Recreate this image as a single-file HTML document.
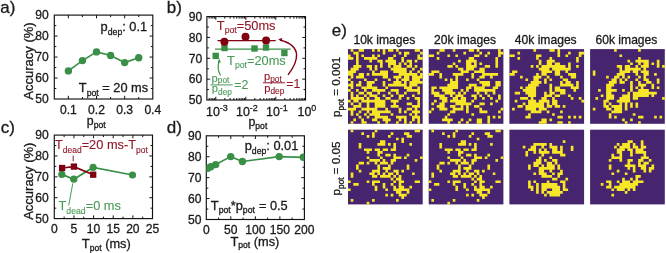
<!DOCTYPE html>
<html><head><meta charset="utf-8"><style>
html,body{margin:0;padding:0;background:#fff;width:666px;height:253px;overflow:hidden}
svg{display:block;will-change:transform}
text{font-family:"Liberation Sans",sans-serif}
</style></head><body>
<svg width="666" height="253" viewBox="0 0 666 253">
<text x="0.3" y="13.0" font-size="17" fill="#1a1a1a" stroke="#1a1a1a" stroke-width="0.3" text-anchor="start" >a)</text>
<rect x="54.3" y="15.1" width="98.50000000000001" height="83.9" fill="none" stroke="#111" stroke-width="1.15"/>
<path d="M68.37142857142857 99.0v-3.2M68.37142857142857 15.1v3.2M96.51428571428573 99.0v-3.2M96.51428571428573 15.1v3.2M124.65714285714287 99.0v-3.2M124.65714285714287 15.1v3.2M82.44285714285715 99.0v-2.0M82.44285714285715 15.1v2.0M110.58571428571429 99.0v-2.0M110.58571428571429 15.1v2.0M138.72857142857146 99.0v-2.0M138.72857142857146 15.1v2.0M54.3 36.075h3.2M152.8 36.075h-3.2M54.3 57.050000000000004h3.2M152.8 57.050000000000004h-3.2M54.3 78.025h3.2M152.8 78.025h-3.2M54.3 25.5875h2.0M152.8 25.5875h-2.0M54.3 46.5625h2.0M152.8 46.5625h-2.0M54.3 67.5375h2.0M152.8 67.5375h-2.0M54.3 88.5125h2.0M152.8 88.5125h-2.0" stroke="#111" stroke-width="1" fill="none"/>
<text x="48.8" y="19.3" font-size="12.1" fill="#1a1a1a" stroke="#1a1a1a" stroke-width="0.3" text-anchor="end" >90</text>
<text x="48.8" y="40.28" font-size="12.1" fill="#1a1a1a" stroke="#1a1a1a" stroke-width="0.3" text-anchor="end" >80</text>
<text x="48.8" y="61.25" font-size="12.1" fill="#1a1a1a" stroke="#1a1a1a" stroke-width="0.3" text-anchor="end" >70</text>
<text x="48.8" y="82.23" font-size="12.1" fill="#1a1a1a" stroke="#1a1a1a" stroke-width="0.3" text-anchor="end" >60</text>
<text x="48.8" y="103.2" font-size="12.1" fill="#1a1a1a" stroke="#1a1a1a" stroke-width="0.3" text-anchor="end" >50</text>
<text x="68.37" y="113.5" font-size="12.1" fill="#1a1a1a" stroke="#1a1a1a" stroke-width="0.3" text-anchor="middle" >0.1</text>
<text x="96.51" y="113.5" font-size="12.1" fill="#1a1a1a" stroke="#1a1a1a" stroke-width="0.3" text-anchor="middle" >0.2</text>
<text x="124.66" y="113.5" font-size="12.1" fill="#1a1a1a" stroke="#1a1a1a" stroke-width="0.3" text-anchor="middle" >0.3</text>
<text x="152.8" y="113.5" font-size="12.1" fill="#1a1a1a" stroke="#1a1a1a" stroke-width="0.3" text-anchor="middle" >0.4</text>
<text transform="translate(33.2,61.0) rotate(-90)" font-size="13" fill="#1a1a1a" stroke="#1a1a1a" stroke-width="0.3" text-anchor="middle">Accuracy (%)</text>
<text x="86.8" y="125.3" font-size="12.3" fill="#1a1a1a" stroke="#1a1a1a" stroke-width="0.3" text-anchor="start" >p<tspan font-size="8.6" dy="3.0">pot</tspan></text>
<polyline points="68.37142857142857,70.9 82.44285714285715,60.6 96.51428571428573,51.9 110.58571428571429,55.5 124.65714285714287,62.6 138.72857142857146,57.7" fill="none" stroke="#3a8f47" stroke-width="1.7"/>
<circle cx="68.37142857142857" cy="70.9" r="3.7" fill="#3a8f47"/>
<circle cx="82.44285714285715" cy="60.6" r="3.7" fill="#3a8f47"/>
<circle cx="96.51428571428573" cy="51.9" r="3.7" fill="#3a8f47"/>
<circle cx="110.58571428571429" cy="55.5" r="3.7" fill="#3a8f47"/>
<circle cx="124.65714285714287" cy="62.6" r="3.7" fill="#3a8f47"/>
<circle cx="138.72857142857146" cy="57.7" r="3.7" fill="#3a8f47"/>
<text x="100.6" y="30.9" font-size="12.8" fill="#1a1a1a" stroke="#1a1a1a" stroke-width="0.3" text-anchor="start" >p<tspan font-size="8.7" dy="4.2">dep</tspan><tspan font-size="12.8" dy="-4.2">: 0.1</tspan></text>
<text x="78.8" y="92.1" font-size="12.8" fill="#1a1a1a" stroke="#1a1a1a" stroke-width="0.3" text-anchor="start" >T<tspan font-size="8.7" dy="4.2">pot</tspan><tspan font-size="12.8" dy="-4.2"> = 20 ms</tspan></text>
<text x="166.8" y="13.0" font-size="17" fill="#1a1a1a" stroke="#1a1a1a" stroke-width="0.3" text-anchor="start" >b)</text>
<rect x="206.9" y="16.6" width="98.6" height="83.4" fill="none" stroke="#111" stroke-width="1.15"/>
<path d="M215.8 100.0v-3.2M215.8 16.6v3.2M245.8 100.0v-3.2M245.8 16.6v3.2M275.8 100.0v-3.2M275.8 16.6v3.2M209.14453751150933 100.0v-2.0M209.14453751150933 16.6v2.0M211.15294120042773 100.0v-2.0M211.15294120042773 16.6v2.0M212.89269960975832 100.0v-2.0M212.89269960975832 16.6v2.0M214.42727528317977 100.0v-2.0M214.42727528317977 16.6v2.0M224.83089986991945 100.0v-2.0M224.83089986991945 16.6v2.0M230.1136376415899 100.0v-2.0M230.1136376415899 16.6v2.0M233.8617997398389 100.0v-2.0M233.8617997398389 16.6v2.0M236.76910013008057 100.0v-2.0M236.76910013008057 16.6v2.0M239.14453751150933 100.0v-2.0M239.14453751150933 16.6v2.0M241.15294120042773 100.0v-2.0M241.15294120042773 16.6v2.0M242.89269960975832 100.0v-2.0M242.89269960975832 16.6v2.0M244.42727528317977 100.0v-2.0M244.42727528317977 16.6v2.0M254.83089986991945 100.0v-2.0M254.83089986991945 16.6v2.0M260.1136376415899 100.0v-2.0M260.1136376415899 16.6v2.0M263.8617997398389 100.0v-2.0M263.8617997398389 16.6v2.0M266.7691001300806 100.0v-2.0M266.7691001300806 16.6v2.0M269.1445375115093 100.0v-2.0M269.1445375115093 16.6v2.0M271.15294120042773 100.0v-2.0M271.15294120042773 16.6v2.0M272.8926996097583 100.0v-2.0M272.8926996097583 16.6v2.0M274.42727528317977 100.0v-2.0M274.42727528317977 16.6v2.0M284.83089986991945 100.0v-2.0M284.83089986991945 16.6v2.0M290.1136376415899 100.0v-2.0M290.1136376415899 16.6v2.0M293.8617997398389 100.0v-2.0M293.8617997398389 16.6v2.0M296.7691001300806 100.0v-2.0M296.7691001300806 16.6v2.0M299.1445375115093 100.0v-2.0M299.1445375115093 16.6v2.0M301.15294120042773 100.0v-2.0M301.15294120042773 16.6v2.0M302.8926996097583 100.0v-2.0M302.8926996097583 16.6v2.0M304.42727528317977 100.0v-2.0M304.42727528317977 16.6v2.0M206.9 37.45h3.2M305.5 37.45h-3.2M206.9 58.300000000000004h3.2M305.5 58.300000000000004h-3.2M206.9 79.15h3.2M305.5 79.15h-3.2M206.9 27.025000000000002h2.0M305.5 27.025000000000002h-2.0M206.9 47.875h2.0M305.5 47.875h-2.0M206.9 68.725h2.0M305.5 68.725h-2.0M206.9 89.57500000000002h2.0M305.5 89.57500000000002h-2.0" stroke="#111" stroke-width="1" fill="none"/>
<text x="202.2" y="20.8" font-size="12.1" fill="#1a1a1a" stroke="#1a1a1a" stroke-width="0.3" text-anchor="end" >90</text>
<text x="202.2" y="41.65" font-size="12.1" fill="#1a1a1a" stroke="#1a1a1a" stroke-width="0.3" text-anchor="end" >80</text>
<text x="202.2" y="62.5" font-size="12.1" fill="#1a1a1a" stroke="#1a1a1a" stroke-width="0.3" text-anchor="end" >70</text>
<text x="202.2" y="83.35" font-size="12.1" fill="#1a1a1a" stroke="#1a1a1a" stroke-width="0.3" text-anchor="end" >60</text>
<text x="202.2" y="104.2" font-size="12.1" fill="#1a1a1a" stroke="#1a1a1a" stroke-width="0.3" text-anchor="end" >50</text>
<text x="216.9" y="116.3" font-size="12.4" fill="#1a1a1a" stroke="#1a1a1a" stroke-width="0.3" text-anchor="middle">10<tspan font-size="9" dy="-5">-3</tspan></text>
<text x="246.9" y="116.3" font-size="12.4" fill="#1a1a1a" stroke="#1a1a1a" stroke-width="0.3" text-anchor="middle">10<tspan font-size="9" dy="-5">-2</tspan></text>
<text x="276.90000000000003" y="116.3" font-size="12.4" fill="#1a1a1a" stroke="#1a1a1a" stroke-width="0.3" text-anchor="middle">10<tspan font-size="9" dy="-5">-1</tspan></text>
<text x="306.90000000000003" y="116.3" font-size="12.4" fill="#1a1a1a" stroke="#1a1a1a" stroke-width="0.3" text-anchor="middle">10<tspan font-size="9" dy="-5">0</tspan></text>
<text x="248.5" y="125.6" font-size="12.3" fill="#1a1a1a" stroke="#1a1a1a" stroke-width="0.3" text-anchor="start" >p<tspan font-size="8.6" dy="3.0">pot</tspan></text>
<polyline points="215,49.2 290.7,49.2" fill="none" stroke="#3a8f47" stroke-width="1.3"/>
<rect x="212.5" y="52.699999999999996" width="6.4" height="6.4" fill="#3a8f47"/>
<rect x="221.3" y="44.8" width="6.4" height="6.4" fill="#3a8f47"/>
<rect x="251.3" y="45.3" width="6.4" height="6.4" fill="#3a8f47"/>
<rect x="262.8" y="44.3" width="6.4" height="6.4" fill="#3a8f47"/>
<rect x="281.2" y="49.8" width="6.4" height="6.4" fill="#3a8f47"/>
<polyline points="217.5,40.6 275.7,40.6" fill="none" stroke="#7f0010" stroke-width="1.3"/>
<circle cx="224.4" cy="41.8" r="4.0" fill="#7f0010"/>
<circle cx="245.5" cy="36.7" r="4.0" fill="#7f0010"/>
<circle cx="266.1" cy="40.4" r="4.0" fill="#7f0010"/>
<text x="216.8" y="29.5" font-size="12.8" fill="#921828" stroke="#921828" stroke-width="0.12" text-anchor="start" >T<tspan font-size="8.7" dy="3.0">pot</tspan><tspan font-size="12.8" dy="-3.0">=50ms</tspan></text>
<text x="227.1" y="64.7" font-size="12.8" fill="#4a9a58" stroke="#4a9a58" stroke-width="0.12" text-anchor="start" >T<tspan font-size="8.7" dy="3.2">pot</tspan><tspan font-size="12.8" dy="-3.2">=20ms</tspan></text>
<text x="211.6" y="81.8" font-size="11.2" fill="#4a9a58" stroke="#4a9a58" stroke-width="0.12" text-anchor="start" >p<tspan font-size="8.3" dy="1.5">pot</tspan></text>
<line x1="210.5" y1="84.9" x2="232.7" y2="84.9" stroke="#4a9a58" stroke-width="1"/>
<text x="211.8" y="92.2" font-size="11.2" fill="#4a9a58" stroke="#4a9a58" stroke-width="0.12" text-anchor="start" >p<tspan font-size="8.3" dy="2.4">dep</tspan></text>
<text x="234.3" y="89.4" font-size="12.3" fill="#4a9a58" stroke="#4a9a58" stroke-width="0.12" text-anchor="start" >=2</text>
<text x="264.0" y="80.0" font-size="11.2" fill="#921828" stroke="#921828" stroke-width="0.12" text-anchor="start" >p<tspan font-size="8.3" dy="1.5">pot</tspan></text>
<line x1="263" y1="82.8" x2="285.1" y2="82.8" stroke="#921828" stroke-width="1"/>
<text x="264.2" y="91.6" font-size="11.2" fill="#921828" stroke="#921828" stroke-width="0.12" text-anchor="start" >p<tspan font-size="8.3" dy="2.4">dep</tspan></text>
<text x="286.3" y="87.7" font-size="12.3" fill="#921828" stroke="#921828" stroke-width="0.12" text-anchor="start" >=1</text>
<path d="M220.5 75.5 C218 71 217.5 66 219 61.5" fill="none" stroke="#3a8f47" stroke-width="1.2"/>
<path d="M219.2 58.6 l-1.6 4 l3.2 0 z" fill="#3a8f47"/>
<path d="M288 74.9 C298 62 303.5 46 280 40" fill="none" stroke="#7f0010" stroke-width="1.4"/>
<path d="M278.2 39.2 l4.2 -1.2 l-0.9 3.6 z" fill="#7f0010"/>
<text x="0.8" y="133.2" font-size="17" fill="#1a1a1a" stroke="#1a1a1a" stroke-width="0.3" text-anchor="start" >c)</text>
<rect x="54.3" y="135.1" width="98.2" height="83.5" fill="none" stroke="#111" stroke-width="1.15"/>
<path d="M73.94 218.6v-3.2M73.94 135.1v3.2M93.58 218.6v-3.2M93.58 135.1v3.2M113.22 218.6v-3.2M113.22 135.1v3.2M132.86 218.6v-3.2M132.86 135.1v3.2M64.12 218.6v-2.0M64.12 135.1v2.0M83.75999999999999 218.6v-2.0M83.75999999999999 135.1v2.0M103.4 218.6v-2.0M103.4 135.1v2.0M123.03999999999999 218.6v-2.0M123.03999999999999 135.1v2.0M142.68 218.6v-2.0M142.68 135.1v2.0M54.3 155.975h3.2M152.5 155.975h-3.2M54.3 176.85h3.2M152.5 176.85h-3.2M54.3 197.725h3.2M152.5 197.725h-3.2M54.3 145.5375h2.0M152.5 145.5375h-2.0M54.3 166.4125h2.0M152.5 166.4125h-2.0M54.3 187.2875h2.0M152.5 187.2875h-2.0M54.3 208.1625h2.0M152.5 208.1625h-2.0" stroke="#111" stroke-width="1" fill="none"/>
<text x="48.8" y="139.3" font-size="12.1" fill="#1a1a1a" stroke="#1a1a1a" stroke-width="0.3" text-anchor="end" >90</text>
<text x="48.8" y="160.17" font-size="12.1" fill="#1a1a1a" stroke="#1a1a1a" stroke-width="0.3" text-anchor="end" >80</text>
<text x="48.8" y="181.05" font-size="12.1" fill="#1a1a1a" stroke="#1a1a1a" stroke-width="0.3" text-anchor="end" >70</text>
<text x="48.8" y="201.92" font-size="12.1" fill="#1a1a1a" stroke="#1a1a1a" stroke-width="0.3" text-anchor="end" >60</text>
<text x="48.8" y="222.8" font-size="12.1" fill="#1a1a1a" stroke="#1a1a1a" stroke-width="0.3" text-anchor="end" >50</text>
<text x="54.3" y="233.2" font-size="12.1" fill="#1a1a1a" stroke="#1a1a1a" stroke-width="0.3" text-anchor="middle" >0</text>
<text x="73.94" y="233.2" font-size="12.1" fill="#1a1a1a" stroke="#1a1a1a" stroke-width="0.3" text-anchor="middle" >5</text>
<text x="93.58" y="233.2" font-size="12.1" fill="#1a1a1a" stroke="#1a1a1a" stroke-width="0.3" text-anchor="middle" >10</text>
<text x="113.22" y="233.2" font-size="12.1" fill="#1a1a1a" stroke="#1a1a1a" stroke-width="0.3" text-anchor="middle" >15</text>
<text x="132.86" y="233.2" font-size="12.1" fill="#1a1a1a" stroke="#1a1a1a" stroke-width="0.3" text-anchor="middle" >20</text>
<text x="152.5" y="233.2" font-size="12.1" fill="#1a1a1a" stroke="#1a1a1a" stroke-width="0.3" text-anchor="middle" >25</text>
<text transform="translate(33.2,181.2) rotate(-90)" font-size="13" fill="#1a1a1a" stroke="#1a1a1a" stroke-width="0.3" text-anchor="middle">Accuracy (%)</text>
<text x="81.8" y="248.4" font-size="13" fill="#1a1a1a" stroke="#1a1a1a" stroke-width="0.3" text-anchor="start" >T<tspan font-size="8.5" dy="2.4">pot</tspan><tspan font-size="12.8" dy="-2.4"> (ms)</tspan></text>
<polyline points="61.8,174.4 73.8,179.2 93.1,167.4 132.5,175.0" fill="none" stroke="#3a8f47" stroke-width="1.7"/>
<circle cx="61.8" cy="174.4" r="3.6" fill="#3a8f47"/>
<circle cx="73.8" cy="179.2" r="3.6" fill="#3a8f47"/>
<circle cx="93.1" cy="167.4" r="3.6" fill="#3a8f47"/>
<circle cx="132.5" cy="175.0" r="3.6" fill="#3a8f47"/>
<polyline points="62.1,168.0 73.9,166.6 93.2,174.7" fill="none" stroke="#7f0010" stroke-width="1.7"/>
<rect x="58.95" y="164.85" width="6.3" height="6.3" fill="#7f0010"/>
<rect x="70.75" y="163.45" width="6.3" height="6.3" fill="#7f0010"/>
<rect x="90.05" y="171.54999999999998" width="6.3" height="6.3" fill="#7f0010"/>
<text x="54.9" y="148.8" font-size="12.8" fill="#921828" stroke="#921828" stroke-width="0.12" text-anchor="start" >T<tspan font-size="8.5" dy="4.0">dead</tspan><tspan font-size="12.8" dy="-4.0">=20 ms-T</tspan><tspan font-size="8.5" dy="4.0">pot</tspan></text>
<line x1="73.2" y1="155.5" x2="73.2" y2="161.3" stroke="#921828" stroke-width="1"/>
<text x="58.5" y="210.4" font-size="12.8" fill="#4a9a58" stroke="#4a9a58" stroke-width="0.12" text-anchor="start" >T<tspan font-size="8.7" dy="3.4">dead</tspan><tspan font-size="12.8" dy="-3.4">=0 ms</tspan></text>
<line x1="72.8" y1="183.3" x2="68.7" y2="205.3" stroke="#4a9a58" stroke-width="1"/>
<text x="166.8" y="133.2" font-size="17" fill="#1a1a1a" stroke="#1a1a1a" stroke-width="0.3" text-anchor="start" >d)</text>
<rect x="206.3" y="135.8" width="98.09999999999997" height="83.69999999999999" fill="none" stroke="#111" stroke-width="1.15"/>
<path d="M230.825 219.5v-3.2M230.825 135.8v3.2M255.35 219.5v-3.2M255.35 135.8v3.2M279.875 219.5v-3.2M279.875 135.8v3.2M218.5625 219.5v-2.0M218.5625 135.8v2.0M243.0875 219.5v-2.0M243.0875 135.8v2.0M267.6125 219.5v-2.0M267.6125 135.8v2.0M292.1375 219.5v-2.0M292.1375 135.8v2.0M206.3 156.72500000000002h3.2M304.4 156.72500000000002h-3.2M206.3 177.65h3.2M304.4 177.65h-3.2M206.3 198.575h3.2M304.4 198.575h-3.2M206.3 146.26250000000002h2.0M304.4 146.26250000000002h-2.0M206.3 167.1875h2.0M304.4 167.1875h-2.0M206.3 188.1125h2.0M304.4 188.1125h-2.0M206.3 209.0375h2.0M304.4 209.0375h-2.0" stroke="#111" stroke-width="1" fill="none"/>
<text x="201.5" y="140.0" font-size="12.1" fill="#1a1a1a" stroke="#1a1a1a" stroke-width="0.3" text-anchor="end" >90</text>
<text x="201.5" y="160.93" font-size="12.1" fill="#1a1a1a" stroke="#1a1a1a" stroke-width="0.3" text-anchor="end" >80</text>
<text x="201.5" y="181.85" font-size="12.1" fill="#1a1a1a" stroke="#1a1a1a" stroke-width="0.3" text-anchor="end" >70</text>
<text x="201.5" y="202.77" font-size="12.1" fill="#1a1a1a" stroke="#1a1a1a" stroke-width="0.3" text-anchor="end" >60</text>
<text x="201.5" y="223.7" font-size="12.1" fill="#1a1a1a" stroke="#1a1a1a" stroke-width="0.3" text-anchor="end" >50</text>
<text x="206.3" y="234.2" font-size="12.1" fill="#1a1a1a" stroke="#1a1a1a" stroke-width="0.3" text-anchor="middle" >0</text>
<text x="230.82" y="234.2" font-size="12.1" fill="#1a1a1a" stroke="#1a1a1a" stroke-width="0.3" text-anchor="middle" >50</text>
<text x="255.35" y="234.2" font-size="12.1" fill="#1a1a1a" stroke="#1a1a1a" stroke-width="0.3" text-anchor="middle" >100</text>
<text x="279.88" y="234.2" font-size="12.1" fill="#1a1a1a" stroke="#1a1a1a" stroke-width="0.3" text-anchor="middle" >150</text>
<text x="304.4" y="234.2" font-size="12.1" fill="#1a1a1a" stroke="#1a1a1a" stroke-width="0.3" text-anchor="middle" >200</text>
<text x="230.4" y="246.0" font-size="13" fill="#1a1a1a" stroke="#1a1a1a" stroke-width="0.3" text-anchor="start" >T<tspan font-size="8.5" dy="2.4">pot</tspan><tspan font-size="12.8" dy="-2.4"> (ms)</tspan></text>
<clipPath id="cd"><rect x="206.3" y="135.8" width="98.1" height="83.7"/></clipPath>
<g clip-path="url(#cd)">
<polyline points="207.8,168.3 210.8,166.8 215.7,164.6 230.7,156.6 242.4,161.5 279.2,156.6 303.3,157.3" fill="none" stroke="#3a8f47" stroke-width="1.7"/>
<circle cx="207.8" cy="168.3" r="3.7" fill="#3a8f47"/>
<circle cx="210.8" cy="166.8" r="3.7" fill="#3a8f47"/>
<circle cx="215.7" cy="164.6" r="3.7" fill="#3a8f47"/>
<circle cx="230.7" cy="156.6" r="3.7" fill="#3a8f47"/>
<circle cx="242.4" cy="161.5" r="3.7" fill="#3a8f47"/>
<circle cx="279.2" cy="156.6" r="3.7" fill="#3a8f47"/>
<circle cx="303.3" cy="157.3" r="3.7" fill="#3a8f47"/>
</g>
<text x="244.7" y="149.5" font-size="12.8" fill="#1a1a1a" stroke="#1a1a1a" stroke-width="0.3" text-anchor="start" >p<tspan font-size="8.7" dy="4.2">dep</tspan><tspan font-size="12.8" dy="-4.2">: 0.01</tspan></text>
<text x="210.8" y="210.0" font-size="12.8" fill="#1a1a1a" stroke="#1a1a1a" stroke-width="0.3" text-anchor="start" >T<tspan font-size="8.7" dy="3.0">pot</tspan><tspan font-size="12.8" dy="-3.0">*p</tspan><tspan font-size="8.7" dy="3.0">pot</tspan></text>
<text x="258.9" y="210.0" font-size="12.8" fill="#1a1a1a" stroke="#1a1a1a" stroke-width="0.3" text-anchor="start" >= 0.5</text>
<text x="331.8" y="35.8" font-size="17" fill="#1a1a1a" stroke="#1a1a1a" stroke-width="0.3" text-anchor="start" >e)</text>
<text x="384.35" y="43.5" font-size="12.1" fill="#1a1a1a" stroke="#1a1a1a" stroke-width="0.3" text-anchor="middle" >10k images</text>
<text x="465.05" y="43.5" font-size="12.1" fill="#1a1a1a" stroke="#1a1a1a" stroke-width="0.3" text-anchor="middle" >20k images</text>
<text x="545.75" y="43.5" font-size="12.1" fill="#1a1a1a" stroke="#1a1a1a" stroke-width="0.3" text-anchor="middle" >40k images</text>
<text x="626.45" y="43.5" font-size="12.1" fill="#1a1a1a" stroke="#1a1a1a" stroke-width="0.3" text-anchor="middle" >60k images</text>
<text transform="translate(339.6,86.8) rotate(-90)" font-size="11.6" fill="#1a1a1a" stroke="#1a1a1a" stroke-width="0.3" text-anchor="middle">p<tspan font-size="8.3" dy="4">pot</tspan><tspan dy="-4"> = 0.001</tspan></text>
<text transform="translate(339.6,168.5) rotate(-90)" font-size="11.6" fill="#1a1a1a" stroke="#1a1a1a" stroke-width="0.3" text-anchor="middle">p<tspan font-size="8.3" dy="4">pot</tspan><tspan dy="-4"> = 0.05</tspan></text>
<rect x="348.0" y="49.1" width="74.7" height="74.7" fill="#46256e"/>
<path d="M350.67 49.10h2.67v2.67h-2.67zM358.67 49.10h2.67v2.67h-2.67zM361.34 49.10h2.67v2.67h-2.67zM372.01 49.10h2.67v2.67h-2.67zM377.35 49.10h2.67v2.67h-2.67zM382.68 49.10h2.67v2.67h-2.67zM388.02 49.10h2.67v2.67h-2.67zM390.69 49.10h2.67v2.67h-2.67zM396.02 49.10h2.67v2.67h-2.67zM414.70 49.10h2.67v2.67h-2.67zM417.36 49.10h2.67v2.67h-2.67zM353.34 51.77h2.67v2.67h-2.67zM356.00 51.77h2.67v2.67h-2.67zM382.68 51.77h2.67v2.67h-2.67zM398.69 51.77h2.67v2.67h-2.67zM404.02 51.77h2.67v2.67h-2.67zM406.69 51.77h2.67v2.67h-2.67zM420.03 51.77h2.67v2.67h-2.67zM348.00 54.44h2.67v2.67h-2.67zM356.00 54.44h2.67v2.67h-2.67zM361.34 54.44h2.67v2.67h-2.67zM372.01 54.44h2.67v2.67h-2.67zM377.35 54.44h2.67v2.67h-2.67zM393.35 54.44h2.67v2.67h-2.67zM404.02 54.44h2.67v2.67h-2.67zM417.36 54.44h2.67v2.67h-2.67zM348.00 57.10h2.67v2.67h-2.67zM350.67 57.10h2.67v2.67h-2.67zM356.00 57.10h2.67v2.67h-2.67zM364.01 57.10h2.67v2.67h-2.67zM366.68 57.10h2.67v2.67h-2.67zM369.34 57.10h2.67v2.67h-2.67zM372.01 57.10h2.67v2.67h-2.67zM374.68 57.10h2.67v2.67h-2.67zM388.02 57.10h2.67v2.67h-2.67zM390.69 57.10h2.67v2.67h-2.67zM401.36 57.10h2.67v2.67h-2.67zM417.36 57.10h2.67v2.67h-2.67zM420.03 57.10h2.67v2.67h-2.67zM356.00 59.77h2.67v2.67h-2.67zM369.34 59.77h2.67v2.67h-2.67zM377.35 59.77h2.67v2.67h-2.67zM380.01 59.77h2.67v2.67h-2.67zM385.35 59.77h2.67v2.67h-2.67zM388.02 59.77h2.67v2.67h-2.67zM390.69 59.77h2.67v2.67h-2.67zM393.35 59.77h2.67v2.67h-2.67zM401.36 59.77h2.67v2.67h-2.67zM406.69 59.77h2.67v2.67h-2.67zM409.36 59.77h2.67v2.67h-2.67zM414.70 59.77h2.67v2.67h-2.67zM356.00 62.44h2.67v2.67h-2.67zM380.01 62.44h2.67v2.67h-2.67zM388.02 62.44h2.67v2.67h-2.67zM390.69 62.44h2.67v2.67h-2.67zM393.35 62.44h2.67v2.67h-2.67zM398.69 62.44h2.67v2.67h-2.67zM404.02 62.44h2.67v2.67h-2.67zM409.36 62.44h2.67v2.67h-2.67zM353.34 65.11h2.67v2.67h-2.67zM356.00 65.11h2.67v2.67h-2.67zM358.67 65.11h2.67v2.67h-2.67zM366.68 65.11h2.67v2.67h-2.67zM369.34 65.11h2.67v2.67h-2.67zM374.68 65.11h2.67v2.67h-2.67zM380.01 65.11h2.67v2.67h-2.67zM388.02 65.11h2.67v2.67h-2.67zM393.35 65.11h2.67v2.67h-2.67zM396.02 65.11h2.67v2.67h-2.67zM398.69 65.11h2.67v2.67h-2.67zM406.69 65.11h2.67v2.67h-2.67zM409.36 65.11h2.67v2.67h-2.67zM414.70 65.11h2.67v2.67h-2.67zM350.67 67.78h2.67v2.67h-2.67zM353.34 67.78h2.67v2.67h-2.67zM356.00 67.78h2.67v2.67h-2.67zM369.34 67.78h2.67v2.67h-2.67zM374.68 67.78h2.67v2.67h-2.67zM390.69 67.78h2.67v2.67h-2.67zM393.35 67.78h2.67v2.67h-2.67zM396.02 67.78h2.67v2.67h-2.67zM398.69 67.78h2.67v2.67h-2.67zM401.36 67.78h2.67v2.67h-2.67zM404.02 67.78h2.67v2.67h-2.67zM412.03 67.78h2.67v2.67h-2.67zM420.03 67.78h2.67v2.67h-2.67zM348.00 70.44h2.67v2.67h-2.67zM350.67 70.44h2.67v2.67h-2.67zM353.34 70.44h2.67v2.67h-2.67zM372.01 70.44h2.67v2.67h-2.67zM380.01 70.44h2.67v2.67h-2.67zM382.68 70.44h2.67v2.67h-2.67zM385.35 70.44h2.67v2.67h-2.67zM393.35 70.44h2.67v2.67h-2.67zM396.02 70.44h2.67v2.67h-2.67zM398.69 70.44h2.67v2.67h-2.67zM401.36 70.44h2.67v2.67h-2.67zM404.02 70.44h2.67v2.67h-2.67zM409.36 70.44h2.67v2.67h-2.67zM417.36 70.44h2.67v2.67h-2.67zM348.00 73.11h2.67v2.67h-2.67zM350.67 73.11h2.67v2.67h-2.67zM358.67 73.11h2.67v2.67h-2.67zM361.34 73.11h2.67v2.67h-2.67zM366.68 73.11h2.67v2.67h-2.67zM372.01 73.11h2.67v2.67h-2.67zM374.68 73.11h2.67v2.67h-2.67zM377.35 73.11h2.67v2.67h-2.67zM380.01 73.11h2.67v2.67h-2.67zM382.68 73.11h2.67v2.67h-2.67zM385.35 73.11h2.67v2.67h-2.67zM398.69 73.11h2.67v2.67h-2.67zM401.36 73.11h2.67v2.67h-2.67zM404.02 73.11h2.67v2.67h-2.67zM406.69 73.11h2.67v2.67h-2.67zM409.36 73.11h2.67v2.67h-2.67zM412.03 73.11h2.67v2.67h-2.67zM414.70 73.11h2.67v2.67h-2.67zM420.03 73.11h2.67v2.67h-2.67zM350.67 75.78h2.67v2.67h-2.67zM356.00 75.78h2.67v2.67h-2.67zM358.67 75.78h2.67v2.67h-2.67zM361.34 75.78h2.67v2.67h-2.67zM382.68 75.78h2.67v2.67h-2.67zM385.35 75.78h2.67v2.67h-2.67zM393.35 75.78h2.67v2.67h-2.67zM396.02 75.78h2.67v2.67h-2.67zM398.69 75.78h2.67v2.67h-2.67zM404.02 75.78h2.67v2.67h-2.67zM406.69 75.78h2.67v2.67h-2.67zM412.03 75.78h2.67v2.67h-2.67zM414.70 75.78h2.67v2.67h-2.67zM417.36 75.78h2.67v2.67h-2.67zM420.03 75.78h2.67v2.67h-2.67zM348.00 78.45h2.67v2.67h-2.67zM364.01 78.45h2.67v2.67h-2.67zM374.68 78.45h2.67v2.67h-2.67zM388.02 78.45h2.67v2.67h-2.67zM396.02 78.45h2.67v2.67h-2.67zM401.36 78.45h2.67v2.67h-2.67zM404.02 78.45h2.67v2.67h-2.67zM406.69 78.45h2.67v2.67h-2.67zM412.03 78.45h2.67v2.67h-2.67zM414.70 78.45h2.67v2.67h-2.67zM417.36 78.45h2.67v2.67h-2.67zM350.67 81.11h2.67v2.67h-2.67zM358.67 81.11h2.67v2.67h-2.67zM366.68 81.11h2.67v2.67h-2.67zM369.34 81.11h2.67v2.67h-2.67zM372.01 81.11h2.67v2.67h-2.67zM382.68 81.11h2.67v2.67h-2.67zM393.35 81.11h2.67v2.67h-2.67zM396.02 81.11h2.67v2.67h-2.67zM398.69 81.11h2.67v2.67h-2.67zM404.02 81.11h2.67v2.67h-2.67zM409.36 81.11h2.67v2.67h-2.67zM412.03 81.11h2.67v2.67h-2.67zM414.70 81.11h2.67v2.67h-2.67zM417.36 81.11h2.67v2.67h-2.67zM420.03 81.11h2.67v2.67h-2.67zM348.00 83.78h2.67v2.67h-2.67zM350.67 83.78h2.67v2.67h-2.67zM356.00 83.78h2.67v2.67h-2.67zM358.67 83.78h2.67v2.67h-2.67zM366.68 83.78h2.67v2.67h-2.67zM369.34 83.78h2.67v2.67h-2.67zM382.68 83.78h2.67v2.67h-2.67zM388.02 83.78h2.67v2.67h-2.67zM390.69 83.78h2.67v2.67h-2.67zM393.35 83.78h2.67v2.67h-2.67zM396.02 83.78h2.67v2.67h-2.67zM398.69 83.78h2.67v2.67h-2.67zM401.36 83.78h2.67v2.67h-2.67zM404.02 83.78h2.67v2.67h-2.67zM409.36 83.78h2.67v2.67h-2.67zM412.03 83.78h2.67v2.67h-2.67zM414.70 83.78h2.67v2.67h-2.67zM350.67 86.45h2.67v2.67h-2.67zM361.34 86.45h2.67v2.67h-2.67zM364.01 86.45h2.67v2.67h-2.67zM366.68 86.45h2.67v2.67h-2.67zM369.34 86.45h2.67v2.67h-2.67zM372.01 86.45h2.67v2.67h-2.67zM374.68 86.45h2.67v2.67h-2.67zM385.35 86.45h2.67v2.67h-2.67zM404.02 86.45h2.67v2.67h-2.67zM406.69 86.45h2.67v2.67h-2.67zM409.36 86.45h2.67v2.67h-2.67zM417.36 86.45h2.67v2.67h-2.67zM348.00 89.12h2.67v2.67h-2.67zM356.00 89.12h2.67v2.67h-2.67zM364.01 89.12h2.67v2.67h-2.67zM372.01 89.12h2.67v2.67h-2.67zM374.68 89.12h2.67v2.67h-2.67zM377.35 89.12h2.67v2.67h-2.67zM380.01 89.12h2.67v2.67h-2.67zM382.68 89.12h2.67v2.67h-2.67zM390.69 89.12h2.67v2.67h-2.67zM393.35 89.12h2.67v2.67h-2.67zM396.02 89.12h2.67v2.67h-2.67zM406.69 89.12h2.67v2.67h-2.67zM409.36 89.12h2.67v2.67h-2.67zM412.03 89.12h2.67v2.67h-2.67zM414.70 89.12h2.67v2.67h-2.67zM417.36 89.12h2.67v2.67h-2.67zM350.67 91.79h2.67v2.67h-2.67zM358.67 91.79h2.67v2.67h-2.67zM361.34 91.79h2.67v2.67h-2.67zM366.68 91.79h2.67v2.67h-2.67zM369.34 91.79h2.67v2.67h-2.67zM377.35 91.79h2.67v2.67h-2.67zM388.02 91.79h2.67v2.67h-2.67zM396.02 91.79h2.67v2.67h-2.67zM404.02 91.79h2.67v2.67h-2.67zM417.36 91.79h2.67v2.67h-2.67zM350.67 94.45h2.67v2.67h-2.67zM356.00 94.45h2.67v2.67h-2.67zM364.01 94.45h2.67v2.67h-2.67zM369.34 94.45h2.67v2.67h-2.67zM372.01 94.45h2.67v2.67h-2.67zM374.68 94.45h2.67v2.67h-2.67zM382.68 94.45h2.67v2.67h-2.67zM390.69 94.45h2.67v2.67h-2.67zM398.69 94.45h2.67v2.67h-2.67zM401.36 94.45h2.67v2.67h-2.67zM412.03 94.45h2.67v2.67h-2.67zM350.67 97.12h2.67v2.67h-2.67zM353.34 97.12h2.67v2.67h-2.67zM356.00 97.12h2.67v2.67h-2.67zM358.67 97.12h2.67v2.67h-2.67zM361.34 97.12h2.67v2.67h-2.67zM366.68 97.12h2.67v2.67h-2.67zM374.68 97.12h2.67v2.67h-2.67zM377.35 97.12h2.67v2.67h-2.67zM385.35 97.12h2.67v2.67h-2.67zM388.02 97.12h2.67v2.67h-2.67zM398.69 97.12h2.67v2.67h-2.67zM406.69 97.12h2.67v2.67h-2.67zM414.70 97.12h2.67v2.67h-2.67zM417.36 97.12h2.67v2.67h-2.67zM348.00 99.79h2.67v2.67h-2.67zM353.34 99.79h2.67v2.67h-2.67zM356.00 99.79h2.67v2.67h-2.67zM361.34 99.79h2.67v2.67h-2.67zM364.01 99.79h2.67v2.67h-2.67zM366.68 99.79h2.67v2.67h-2.67zM369.34 99.79h2.67v2.67h-2.67zM372.01 99.79h2.67v2.67h-2.67zM374.68 99.79h2.67v2.67h-2.67zM377.35 99.79h2.67v2.67h-2.67zM380.01 99.79h2.67v2.67h-2.67zM382.68 99.79h2.67v2.67h-2.67zM390.69 99.79h2.67v2.67h-2.67zM393.35 99.79h2.67v2.67h-2.67zM396.02 99.79h2.67v2.67h-2.67zM417.36 99.79h2.67v2.67h-2.67zM350.67 102.46h2.67v2.67h-2.67zM358.67 102.46h2.67v2.67h-2.67zM366.68 102.46h2.67v2.67h-2.67zM374.68 102.46h2.67v2.67h-2.67zM377.35 102.46h2.67v2.67h-2.67zM380.01 102.46h2.67v2.67h-2.67zM382.68 102.46h2.67v2.67h-2.67zM393.35 102.46h2.67v2.67h-2.67zM406.69 102.46h2.67v2.67h-2.67zM409.36 102.46h2.67v2.67h-2.67zM417.36 102.46h2.67v2.67h-2.67zM353.34 105.12h2.67v2.67h-2.67zM356.00 105.12h2.67v2.67h-2.67zM358.67 105.12h2.67v2.67h-2.67zM366.68 105.12h2.67v2.67h-2.67zM374.68 105.12h2.67v2.67h-2.67zM377.35 105.12h2.67v2.67h-2.67zM380.01 105.12h2.67v2.67h-2.67zM382.68 105.12h2.67v2.67h-2.67zM390.69 105.12h2.67v2.67h-2.67zM393.35 105.12h2.67v2.67h-2.67zM396.02 105.12h2.67v2.67h-2.67zM412.03 105.12h2.67v2.67h-2.67zM414.70 105.12h2.67v2.67h-2.67zM417.36 105.12h2.67v2.67h-2.67zM348.00 107.79h2.67v2.67h-2.67zM350.67 107.79h2.67v2.67h-2.67zM353.34 107.79h2.67v2.67h-2.67zM361.34 107.79h2.67v2.67h-2.67zM364.01 107.79h2.67v2.67h-2.67zM366.68 107.79h2.67v2.67h-2.67zM369.34 107.79h2.67v2.67h-2.67zM372.01 107.79h2.67v2.67h-2.67zM374.68 107.79h2.67v2.67h-2.67zM385.35 107.79h2.67v2.67h-2.67zM398.69 107.79h2.67v2.67h-2.67zM406.69 107.79h2.67v2.67h-2.67zM409.36 107.79h2.67v2.67h-2.67zM414.70 107.79h2.67v2.67h-2.67zM350.67 110.46h2.67v2.67h-2.67zM358.67 110.46h2.67v2.67h-2.67zM366.68 110.46h2.67v2.67h-2.67zM372.01 110.46h2.67v2.67h-2.67zM374.68 110.46h2.67v2.67h-2.67zM377.35 110.46h2.67v2.67h-2.67zM380.01 110.46h2.67v2.67h-2.67zM382.68 110.46h2.67v2.67h-2.67zM385.35 110.46h2.67v2.67h-2.67zM388.02 110.46h2.67v2.67h-2.67zM398.69 110.46h2.67v2.67h-2.67zM404.02 110.46h2.67v2.67h-2.67zM412.03 110.46h2.67v2.67h-2.67zM414.70 110.46h2.67v2.67h-2.67zM417.36 110.46h2.67v2.67h-2.67zM350.67 113.13h2.67v2.67h-2.67zM356.00 113.13h2.67v2.67h-2.67zM364.01 113.13h2.67v2.67h-2.67zM369.34 113.13h2.67v2.67h-2.67zM372.01 113.13h2.67v2.67h-2.67zM374.68 113.13h2.67v2.67h-2.67zM377.35 113.13h2.67v2.67h-2.67zM390.69 113.13h2.67v2.67h-2.67zM409.36 113.13h2.67v2.67h-2.67zM414.70 113.13h2.67v2.67h-2.67zM358.67 115.80h2.67v2.67h-2.67zM366.68 115.80h2.67v2.67h-2.67zM374.68 115.80h2.67v2.67h-2.67zM377.35 115.80h2.67v2.67h-2.67zM380.01 115.80h2.67v2.67h-2.67zM382.68 115.80h2.67v2.67h-2.67zM385.35 115.80h2.67v2.67h-2.67zM396.02 115.80h2.67v2.67h-2.67zM398.69 115.80h2.67v2.67h-2.67zM401.36 115.80h2.67v2.67h-2.67zM404.02 115.80h2.67v2.67h-2.67zM412.03 115.80h2.67v2.67h-2.67zM414.70 115.80h2.67v2.67h-2.67zM417.36 115.80h2.67v2.67h-2.67zM353.34 118.46h2.67v2.67h-2.67zM361.34 118.46h2.67v2.67h-2.67zM372.01 118.46h2.67v2.67h-2.67zM374.68 118.46h2.67v2.67h-2.67zM382.68 118.46h2.67v2.67h-2.67zM385.35 118.46h2.67v2.67h-2.67zM388.02 118.46h2.67v2.67h-2.67zM398.69 118.46h2.67v2.67h-2.67zM404.02 118.46h2.67v2.67h-2.67zM412.03 118.46h2.67v2.67h-2.67zM417.36 118.46h2.67v2.67h-2.67zM350.67 121.13h2.67v2.67h-2.67zM361.34 121.13h2.67v2.67h-2.67zM364.01 121.13h2.67v2.67h-2.67zM377.35 121.13h2.67v2.67h-2.67zM385.35 121.13h2.67v2.67h-2.67zM396.02 121.13h2.67v2.67h-2.67zM404.02 121.13h2.67v2.67h-2.67zM409.36 121.13h2.67v2.67h-2.67zM417.36 121.13h2.67v2.67h-2.67z" fill="#f7e627"/>
<rect x="428.7" y="49.1" width="74.7" height="74.7" fill="#46256e"/>
<path d="M439.37 49.10h2.67v2.67h-2.67zM442.04 49.10h2.67v2.67h-2.67zM452.71 49.10h2.67v2.67h-2.67zM468.72 49.10h2.67v2.67h-2.67zM471.39 49.10h2.67v2.67h-2.67zM476.72 49.10h2.67v2.67h-2.67zM498.06 49.10h2.67v2.67h-2.67zM436.70 51.77h2.67v2.67h-2.67zM463.38 51.77h2.67v2.67h-2.67zM479.39 51.77h2.67v2.67h-2.67zM487.39 51.77h2.67v2.67h-2.67zM498.06 51.77h2.67v2.67h-2.67zM500.73 51.77h2.67v2.67h-2.67zM428.70 54.44h2.67v2.67h-2.67zM431.37 54.44h2.67v2.67h-2.67zM447.38 54.44h2.67v2.67h-2.67zM455.38 54.44h2.67v2.67h-2.67zM474.05 54.44h2.67v2.67h-2.67zM476.72 54.44h2.67v2.67h-2.67zM484.73 54.44h2.67v2.67h-2.67zM498.06 54.44h2.67v2.67h-2.67zM436.70 57.10h2.67v2.67h-2.67zM468.72 57.10h2.67v2.67h-2.67zM471.39 57.10h2.67v2.67h-2.67zM495.40 57.10h2.67v2.67h-2.67zM458.05 59.77h2.67v2.67h-2.67zM466.05 59.77h2.67v2.67h-2.67zM468.72 59.77h2.67v2.67h-2.67zM471.39 59.77h2.67v2.67h-2.67zM474.05 59.77h2.67v2.67h-2.67zM495.40 59.77h2.67v2.67h-2.67zM452.71 62.44h2.67v2.67h-2.67zM466.05 62.44h2.67v2.67h-2.67zM468.72 62.44h2.67v2.67h-2.67zM474.05 62.44h2.67v2.67h-2.67zM479.39 62.44h2.67v2.67h-2.67zM495.40 62.44h2.67v2.67h-2.67zM447.38 65.11h2.67v2.67h-2.67zM450.04 65.11h2.67v2.67h-2.67zM455.38 65.11h2.67v2.67h-2.67zM466.05 65.11h2.67v2.67h-2.67zM468.72 65.11h2.67v2.67h-2.67zM471.39 65.11h2.67v2.67h-2.67zM474.05 65.11h2.67v2.67h-2.67zM484.73 65.11h2.67v2.67h-2.67zM487.39 65.11h2.67v2.67h-2.67zM495.40 65.11h2.67v2.67h-2.67zM458.05 67.78h2.67v2.67h-2.67zM460.71 67.78h2.67v2.67h-2.67zM466.05 67.78h2.67v2.67h-2.67zM468.72 67.78h2.67v2.67h-2.67zM471.39 67.78h2.67v2.67h-2.67zM479.39 67.78h2.67v2.67h-2.67zM482.06 67.78h2.67v2.67h-2.67zM431.37 70.44h2.67v2.67h-2.67zM434.04 70.44h2.67v2.67h-2.67zM436.70 70.44h2.67v2.67h-2.67zM460.71 70.44h2.67v2.67h-2.67zM463.38 70.44h2.67v2.67h-2.67zM466.05 70.44h2.67v2.67h-2.67zM474.05 70.44h2.67v2.67h-2.67zM476.72 70.44h2.67v2.67h-2.67zM479.39 70.44h2.67v2.67h-2.67zM482.06 70.44h2.67v2.67h-2.67zM428.70 73.11h2.67v2.67h-2.67zM431.37 73.11h2.67v2.67h-2.67zM439.37 73.11h2.67v2.67h-2.67zM452.71 73.11h2.67v2.67h-2.67zM455.38 73.11h2.67v2.67h-2.67zM458.05 73.11h2.67v2.67h-2.67zM460.71 73.11h2.67v2.67h-2.67zM471.39 73.11h2.67v2.67h-2.67zM482.06 73.11h2.67v2.67h-2.67zM484.73 73.11h2.67v2.67h-2.67zM487.39 73.11h2.67v2.67h-2.67zM490.06 73.11h2.67v2.67h-2.67zM492.73 73.11h2.67v2.67h-2.67zM495.40 73.11h2.67v2.67h-2.67zM439.37 75.78h2.67v2.67h-2.67zM455.38 75.78h2.67v2.67h-2.67zM471.39 75.78h2.67v2.67h-2.67zM479.39 75.78h2.67v2.67h-2.67zM482.06 75.78h2.67v2.67h-2.67zM490.06 75.78h2.67v2.67h-2.67zM444.71 78.45h2.67v2.67h-2.67zM450.04 78.45h2.67v2.67h-2.67zM455.38 78.45h2.67v2.67h-2.67zM466.05 78.45h2.67v2.67h-2.67zM476.72 78.45h2.67v2.67h-2.67zM450.04 81.11h2.67v2.67h-2.67zM452.71 81.11h2.67v2.67h-2.67zM455.38 81.11h2.67v2.67h-2.67zM479.39 81.11h2.67v2.67h-2.67zM482.06 81.11h2.67v2.67h-2.67zM484.73 81.11h2.67v2.67h-2.67zM487.39 81.11h2.67v2.67h-2.67zM495.40 81.11h2.67v2.67h-2.67zM498.06 81.11h2.67v2.67h-2.67zM447.38 83.78h2.67v2.67h-2.67zM450.04 83.78h2.67v2.67h-2.67zM452.71 83.78h2.67v2.67h-2.67zM455.38 83.78h2.67v2.67h-2.67zM468.72 83.78h2.67v2.67h-2.67zM471.39 83.78h2.67v2.67h-2.67zM474.05 83.78h2.67v2.67h-2.67zM482.06 83.78h2.67v2.67h-2.67zM484.73 83.78h2.67v2.67h-2.67zM487.39 83.78h2.67v2.67h-2.67zM495.40 83.78h2.67v2.67h-2.67zM498.06 83.78h2.67v2.67h-2.67zM431.37 86.45h2.67v2.67h-2.67zM434.04 86.45h2.67v2.67h-2.67zM439.37 86.45h2.67v2.67h-2.67zM442.04 86.45h2.67v2.67h-2.67zM444.71 86.45h2.67v2.67h-2.67zM447.38 86.45h2.67v2.67h-2.67zM450.04 86.45h2.67v2.67h-2.67zM452.71 86.45h2.67v2.67h-2.67zM455.38 86.45h2.67v2.67h-2.67zM466.05 86.45h2.67v2.67h-2.67zM468.72 86.45h2.67v2.67h-2.67zM474.05 86.45h2.67v2.67h-2.67zM476.72 86.45h2.67v2.67h-2.67zM479.39 86.45h2.67v2.67h-2.67zM482.06 86.45h2.67v2.67h-2.67zM492.73 86.45h2.67v2.67h-2.67zM495.40 86.45h2.67v2.67h-2.67zM431.37 89.12h2.67v2.67h-2.67zM442.04 89.12h2.67v2.67h-2.67zM444.71 89.12h2.67v2.67h-2.67zM447.38 89.12h2.67v2.67h-2.67zM450.04 89.12h2.67v2.67h-2.67zM460.71 89.12h2.67v2.67h-2.67zM466.05 89.12h2.67v2.67h-2.67zM474.05 89.12h2.67v2.67h-2.67zM476.72 89.12h2.67v2.67h-2.67zM479.39 89.12h2.67v2.67h-2.67zM482.06 89.12h2.67v2.67h-2.67zM484.73 89.12h2.67v2.67h-2.67zM487.39 89.12h2.67v2.67h-2.67zM490.06 89.12h2.67v2.67h-2.67zM492.73 89.12h2.67v2.67h-2.67zM431.37 91.79h2.67v2.67h-2.67zM434.04 91.79h2.67v2.67h-2.67zM436.70 91.79h2.67v2.67h-2.67zM444.71 91.79h2.67v2.67h-2.67zM447.38 91.79h2.67v2.67h-2.67zM450.04 91.79h2.67v2.67h-2.67zM452.71 91.79h2.67v2.67h-2.67zM458.05 91.79h2.67v2.67h-2.67zM463.38 91.79h2.67v2.67h-2.67zM476.72 91.79h2.67v2.67h-2.67zM484.73 91.79h2.67v2.67h-2.67zM492.73 91.79h2.67v2.67h-2.67zM434.04 94.45h2.67v2.67h-2.67zM436.70 94.45h2.67v2.67h-2.67zM439.37 94.45h2.67v2.67h-2.67zM442.04 94.45h2.67v2.67h-2.67zM450.04 94.45h2.67v2.67h-2.67zM455.38 94.45h2.67v2.67h-2.67zM458.05 94.45h2.67v2.67h-2.67zM460.71 94.45h2.67v2.67h-2.67zM471.39 94.45h2.67v2.67h-2.67zM474.05 94.45h2.67v2.67h-2.67zM479.39 94.45h2.67v2.67h-2.67zM487.39 94.45h2.67v2.67h-2.67zM498.06 94.45h2.67v2.67h-2.67zM439.37 97.12h2.67v2.67h-2.67zM442.04 97.12h2.67v2.67h-2.67zM444.71 97.12h2.67v2.67h-2.67zM452.71 97.12h2.67v2.67h-2.67zM455.38 97.12h2.67v2.67h-2.67zM460.71 97.12h2.67v2.67h-2.67zM463.38 97.12h2.67v2.67h-2.67zM474.05 97.12h2.67v2.67h-2.67zM482.06 97.12h2.67v2.67h-2.67zM490.06 97.12h2.67v2.67h-2.67zM498.06 97.12h2.67v2.67h-2.67zM434.04 99.79h2.67v2.67h-2.67zM442.04 99.79h2.67v2.67h-2.67zM444.71 99.79h2.67v2.67h-2.67zM450.04 99.79h2.67v2.67h-2.67zM452.71 99.79h2.67v2.67h-2.67zM455.38 99.79h2.67v2.67h-2.67zM458.05 99.79h2.67v2.67h-2.67zM460.71 99.79h2.67v2.67h-2.67zM463.38 99.79h2.67v2.67h-2.67zM471.39 99.79h2.67v2.67h-2.67zM495.40 99.79h2.67v2.67h-2.67zM431.37 102.46h2.67v2.67h-2.67zM439.37 102.46h2.67v2.67h-2.67zM442.04 102.46h2.67v2.67h-2.67zM455.38 102.46h2.67v2.67h-2.67zM458.05 102.46h2.67v2.67h-2.67zM460.71 102.46h2.67v2.67h-2.67zM463.38 102.46h2.67v2.67h-2.67zM466.05 102.46h2.67v2.67h-2.67zM468.72 102.46h2.67v2.67h-2.67zM479.39 102.46h2.67v2.67h-2.67zM482.06 102.46h2.67v2.67h-2.67zM490.06 102.46h2.67v2.67h-2.67zM436.70 105.12h2.67v2.67h-2.67zM439.37 105.12h2.67v2.67h-2.67zM442.04 105.12h2.67v2.67h-2.67zM450.04 105.12h2.67v2.67h-2.67zM452.71 105.12h2.67v2.67h-2.67zM460.71 105.12h2.67v2.67h-2.67zM466.05 105.12h2.67v2.67h-2.67zM474.05 105.12h2.67v2.67h-2.67zM476.72 105.12h2.67v2.67h-2.67zM431.37 107.79h2.67v2.67h-2.67zM439.37 107.79h2.67v2.67h-2.67zM442.04 107.79h2.67v2.67h-2.67zM444.71 107.79h2.67v2.67h-2.67zM452.71 107.79h2.67v2.67h-2.67zM455.38 107.79h2.67v2.67h-2.67zM458.05 107.79h2.67v2.67h-2.67zM460.71 107.79h2.67v2.67h-2.67zM466.05 107.79h2.67v2.67h-2.67zM479.39 107.79h2.67v2.67h-2.67zM500.73 107.79h2.67v2.67h-2.67zM428.70 110.46h2.67v2.67h-2.67zM450.04 110.46h2.67v2.67h-2.67zM452.71 110.46h2.67v2.67h-2.67zM466.05 110.46h2.67v2.67h-2.67zM479.39 110.46h2.67v2.67h-2.67zM482.06 110.46h2.67v2.67h-2.67zM484.73 110.46h2.67v2.67h-2.67zM498.06 110.46h2.67v2.67h-2.67zM447.38 113.13h2.67v2.67h-2.67zM471.39 113.13h2.67v2.67h-2.67zM444.71 115.80h2.67v2.67h-2.67zM487.39 115.80h2.67v2.67h-2.67zM492.73 115.80h2.67v2.67h-2.67zM498.06 115.80h2.67v2.67h-2.67zM442.04 118.46h2.67v2.67h-2.67zM444.71 118.46h2.67v2.67h-2.67zM447.38 118.46h2.67v2.67h-2.67zM450.04 118.46h2.67v2.67h-2.67zM460.71 118.46h2.67v2.67h-2.67zM468.72 118.46h2.67v2.67h-2.67zM476.72 118.46h2.67v2.67h-2.67zM479.39 118.46h2.67v2.67h-2.67zM487.39 118.46h2.67v2.67h-2.67zM447.38 121.13h2.67v2.67h-2.67zM458.05 121.13h2.67v2.67h-2.67zM466.05 121.13h2.67v2.67h-2.67zM476.72 121.13h2.67v2.67h-2.67zM479.39 121.13h2.67v2.67h-2.67zM487.39 121.13h2.67v2.67h-2.67z" fill="#f7e627"/>
<rect x="509.4" y="49.1" width="74.7" height="74.7" fill="#46256e"/>
<path d="M533.41 49.10h2.67v2.67h-2.67zM549.42 49.10h2.67v2.67h-2.67zM552.09 49.10h2.67v2.67h-2.67zM557.42 49.10h2.67v2.67h-2.67zM517.40 51.77h2.67v2.67h-2.67zM557.42 51.77h2.67v2.67h-2.67zM568.09 51.77h2.67v2.67h-2.67zM578.76 51.77h2.67v2.67h-2.67zM581.43 51.77h2.67v2.67h-2.67zM509.40 54.44h2.67v2.67h-2.67zM512.07 54.44h2.67v2.67h-2.67zM536.08 54.44h2.67v2.67h-2.67zM538.75 54.44h2.67v2.67h-2.67zM557.42 54.44h2.67v2.67h-2.67zM565.42 54.44h2.67v2.67h-2.67zM578.76 54.44h2.67v2.67h-2.67zM517.40 57.10h2.67v2.67h-2.67zM536.08 57.10h2.67v2.67h-2.67zM549.42 57.10h2.67v2.67h-2.67zM576.10 57.10h2.67v2.67h-2.67zM538.75 59.77h2.67v2.67h-2.67zM546.75 59.77h2.67v2.67h-2.67zM549.42 59.77h2.67v2.67h-2.67zM552.09 59.77h2.67v2.67h-2.67zM576.10 59.77h2.67v2.67h-2.67zM538.75 62.44h2.67v2.67h-2.67zM546.75 62.44h2.67v2.67h-2.67zM549.42 62.44h2.67v2.67h-2.67zM554.75 62.44h2.67v2.67h-2.67zM557.42 62.44h2.67v2.67h-2.67zM568.09 62.44h2.67v2.67h-2.67zM530.74 65.11h2.67v2.67h-2.67zM536.08 65.11h2.67v2.67h-2.67zM541.41 65.11h2.67v2.67h-2.67zM544.08 65.11h2.67v2.67h-2.67zM546.75 65.11h2.67v2.67h-2.67zM549.42 65.11h2.67v2.67h-2.67zM552.09 65.11h2.67v2.67h-2.67zM554.75 65.11h2.67v2.67h-2.67zM557.42 65.11h2.67v2.67h-2.67zM560.09 65.11h2.67v2.67h-2.67zM562.76 65.11h2.67v2.67h-2.67zM568.09 65.11h2.67v2.67h-2.67zM576.10 65.11h2.67v2.67h-2.67zM538.75 67.78h2.67v2.67h-2.67zM541.41 67.78h2.67v2.67h-2.67zM544.08 67.78h2.67v2.67h-2.67zM546.75 67.78h2.67v2.67h-2.67zM552.09 67.78h2.67v2.67h-2.67zM554.75 67.78h2.67v2.67h-2.67zM557.42 67.78h2.67v2.67h-2.67zM560.09 67.78h2.67v2.67h-2.67zM562.76 67.78h2.67v2.67h-2.67zM565.42 67.78h2.67v2.67h-2.67zM568.09 67.78h2.67v2.67h-2.67zM512.07 70.44h2.67v2.67h-2.67zM514.74 70.44h2.67v2.67h-2.67zM541.41 70.44h2.67v2.67h-2.67zM544.08 70.44h2.67v2.67h-2.67zM546.75 70.44h2.67v2.67h-2.67zM549.42 70.44h2.67v2.67h-2.67zM554.75 70.44h2.67v2.67h-2.67zM557.42 70.44h2.67v2.67h-2.67zM565.42 70.44h2.67v2.67h-2.67zM509.40 73.11h2.67v2.67h-2.67zM512.07 73.11h2.67v2.67h-2.67zM536.08 73.11h2.67v2.67h-2.67zM541.41 73.11h2.67v2.67h-2.67zM544.08 73.11h2.67v2.67h-2.67zM554.75 73.11h2.67v2.67h-2.67zM557.42 73.11h2.67v2.67h-2.67zM568.09 73.11h2.67v2.67h-2.67zM570.76 73.11h2.67v2.67h-2.67zM573.43 73.11h2.67v2.67h-2.67zM520.07 75.78h2.67v2.67h-2.67zM533.41 75.78h2.67v2.67h-2.67zM536.08 75.78h2.67v2.67h-2.67zM538.75 75.78h2.67v2.67h-2.67zM546.75 75.78h2.67v2.67h-2.67zM560.09 75.78h2.67v2.67h-2.67zM570.76 75.78h2.67v2.67h-2.67zM573.43 75.78h2.67v2.67h-2.67zM525.41 78.45h2.67v2.67h-2.67zM533.41 78.45h2.67v2.67h-2.67zM536.08 78.45h2.67v2.67h-2.67zM544.08 78.45h2.67v2.67h-2.67zM549.42 78.45h2.67v2.67h-2.67zM562.76 78.45h2.67v2.67h-2.67zM565.42 78.45h2.67v2.67h-2.67zM530.74 81.11h2.67v2.67h-2.67zM533.41 81.11h2.67v2.67h-2.67zM536.08 81.11h2.67v2.67h-2.67zM538.75 81.11h2.67v2.67h-2.67zM544.08 81.11h2.67v2.67h-2.67zM560.09 81.11h2.67v2.67h-2.67zM565.42 81.11h2.67v2.67h-2.67zM568.09 81.11h2.67v2.67h-2.67zM576.10 81.11h2.67v2.67h-2.67zM528.07 83.78h2.67v2.67h-2.67zM530.74 83.78h2.67v2.67h-2.67zM533.41 83.78h2.67v2.67h-2.67zM536.08 83.78h2.67v2.67h-2.67zM549.42 83.78h2.67v2.67h-2.67zM560.09 83.78h2.67v2.67h-2.67zM562.76 83.78h2.67v2.67h-2.67zM565.42 83.78h2.67v2.67h-2.67zM568.09 83.78h2.67v2.67h-2.67zM570.76 83.78h2.67v2.67h-2.67zM576.10 83.78h2.67v2.67h-2.67zM520.07 86.45h2.67v2.67h-2.67zM525.41 86.45h2.67v2.67h-2.67zM528.07 86.45h2.67v2.67h-2.67zM530.74 86.45h2.67v2.67h-2.67zM533.41 86.45h2.67v2.67h-2.67zM549.42 86.45h2.67v2.67h-2.67zM554.75 86.45h2.67v2.67h-2.67zM557.42 86.45h2.67v2.67h-2.67zM570.76 86.45h2.67v2.67h-2.67zM573.43 86.45h2.67v2.67h-2.67zM576.10 86.45h2.67v2.67h-2.67zM522.74 89.12h2.67v2.67h-2.67zM525.41 89.12h2.67v2.67h-2.67zM528.07 89.12h2.67v2.67h-2.67zM530.74 89.12h2.67v2.67h-2.67zM533.41 89.12h2.67v2.67h-2.67zM549.42 89.12h2.67v2.67h-2.67zM554.75 89.12h2.67v2.67h-2.67zM557.42 89.12h2.67v2.67h-2.67zM560.09 89.12h2.67v2.67h-2.67zM562.76 89.12h2.67v2.67h-2.67zM573.43 89.12h2.67v2.67h-2.67zM514.74 91.79h2.67v2.67h-2.67zM517.40 91.79h2.67v2.67h-2.67zM525.41 91.79h2.67v2.67h-2.67zM528.07 91.79h2.67v2.67h-2.67zM530.74 91.79h2.67v2.67h-2.67zM533.41 91.79h2.67v2.67h-2.67zM544.08 91.79h2.67v2.67h-2.67zM549.42 91.79h2.67v2.67h-2.67zM552.09 91.79h2.67v2.67h-2.67zM560.09 91.79h2.67v2.67h-2.67zM562.76 91.79h2.67v2.67h-2.67zM528.07 94.45h2.67v2.67h-2.67zM530.74 94.45h2.67v2.67h-2.67zM533.41 94.45h2.67v2.67h-2.67zM544.08 94.45h2.67v2.67h-2.67zM546.75 94.45h2.67v2.67h-2.67zM549.42 94.45h2.67v2.67h-2.67zM554.75 94.45h2.67v2.67h-2.67zM557.42 94.45h2.67v2.67h-2.67zM568.09 94.45h2.67v2.67h-2.67zM520.07 97.12h2.67v2.67h-2.67zM522.74 97.12h2.67v2.67h-2.67zM525.41 97.12h2.67v2.67h-2.67zM530.74 97.12h2.67v2.67h-2.67zM541.41 97.12h2.67v2.67h-2.67zM544.08 97.12h2.67v2.67h-2.67zM552.09 97.12h2.67v2.67h-2.67zM570.76 97.12h2.67v2.67h-2.67zM578.76 97.12h2.67v2.67h-2.67zM514.74 99.79h2.67v2.67h-2.67zM528.07 99.79h2.67v2.67h-2.67zM530.74 99.79h2.67v2.67h-2.67zM533.41 99.79h2.67v2.67h-2.67zM538.75 99.79h2.67v2.67h-2.67zM541.41 99.79h2.67v2.67h-2.67zM544.08 99.79h2.67v2.67h-2.67zM546.75 99.79h2.67v2.67h-2.67zM552.09 99.79h2.67v2.67h-2.67zM554.75 99.79h2.67v2.67h-2.67zM581.43 99.79h2.67v2.67h-2.67zM522.74 102.46h2.67v2.67h-2.67zM528.07 102.46h2.67v2.67h-2.67zM530.74 102.46h2.67v2.67h-2.67zM533.41 102.46h2.67v2.67h-2.67zM536.08 102.46h2.67v2.67h-2.67zM538.75 102.46h2.67v2.67h-2.67zM541.41 102.46h2.67v2.67h-2.67zM546.75 102.46h2.67v2.67h-2.67zM552.09 102.46h2.67v2.67h-2.67zM554.75 102.46h2.67v2.67h-2.67zM517.40 105.12h2.67v2.67h-2.67zM520.07 105.12h2.67v2.67h-2.67zM525.41 105.12h2.67v2.67h-2.67zM528.07 105.12h2.67v2.67h-2.67zM530.74 105.12h2.67v2.67h-2.67zM533.41 105.12h2.67v2.67h-2.67zM536.08 105.12h2.67v2.67h-2.67zM538.75 105.12h2.67v2.67h-2.67zM541.41 105.12h2.67v2.67h-2.67zM546.75 105.12h2.67v2.67h-2.67zM549.42 105.12h2.67v2.67h-2.67zM554.75 105.12h2.67v2.67h-2.67zM557.42 105.12h2.67v2.67h-2.67zM562.76 105.12h2.67v2.67h-2.67zM512.07 107.79h2.67v2.67h-2.67zM525.41 107.79h2.67v2.67h-2.67zM528.07 107.79h2.67v2.67h-2.67zM530.74 107.79h2.67v2.67h-2.67zM533.41 107.79h2.67v2.67h-2.67zM538.75 107.79h2.67v2.67h-2.67zM541.41 107.79h2.67v2.67h-2.67zM544.08 107.79h2.67v2.67h-2.67zM530.74 110.46h2.67v2.67h-2.67zM533.41 110.46h2.67v2.67h-2.67zM536.08 110.46h2.67v2.67h-2.67zM538.75 110.46h2.67v2.67h-2.67zM546.75 110.46h2.67v2.67h-2.67zM560.09 110.46h2.67v2.67h-2.67zM528.07 113.13h2.67v2.67h-2.67zM552.09 113.13h2.67v2.67h-2.67zM525.41 115.80h2.67v2.67h-2.67zM528.07 115.80h2.67v2.67h-2.67zM557.42 115.80h2.67v2.67h-2.67zM560.09 115.80h2.67v2.67h-2.67zM568.09 115.80h2.67v2.67h-2.67zM573.43 115.80h2.67v2.67h-2.67zM578.76 115.80h2.67v2.67h-2.67zM541.41 118.46h2.67v2.67h-2.67zM544.08 118.46h2.67v2.67h-2.67zM549.42 118.46h2.67v2.67h-2.67zM538.75 121.13h2.67v2.67h-2.67zM541.41 121.13h2.67v2.67h-2.67zM544.08 121.13h2.67v2.67h-2.67zM557.42 121.13h2.67v2.67h-2.67zM560.09 121.13h2.67v2.67h-2.67zM568.09 121.13h2.67v2.67h-2.67z" fill="#f7e627"/>
<rect x="590.1" y="49.1" width="74.7" height="74.7" fill="#46256e"/>
<path d="M614.11 49.10h2.67v2.67h-2.67zM638.12 49.10h2.67v2.67h-2.67zM619.45 54.44h2.67v2.67h-2.67zM638.12 57.10h2.67v2.67h-2.67zM627.45 59.77h2.67v2.67h-2.67zM635.45 59.77h2.67v2.67h-2.67zM638.12 59.77h2.67v2.67h-2.67zM640.79 59.77h2.67v2.67h-2.67zM643.46 59.77h2.67v2.67h-2.67zM646.12 59.77h2.67v2.67h-2.67zM656.80 59.77h2.67v2.67h-2.67zM630.12 62.44h2.67v2.67h-2.67zM638.12 62.44h2.67v2.67h-2.67zM643.46 62.44h2.67v2.67h-2.67zM646.12 62.44h2.67v2.67h-2.67zM651.46 62.44h2.67v2.67h-2.67zM656.80 62.44h2.67v2.67h-2.67zM616.78 65.11h2.67v2.67h-2.67zM619.45 65.11h2.67v2.67h-2.67zM624.78 65.11h2.67v2.67h-2.67zM627.45 65.11h2.67v2.67h-2.67zM635.45 65.11h2.67v2.67h-2.67zM640.79 65.11h2.67v2.67h-2.67zM643.46 65.11h2.67v2.67h-2.67zM646.12 65.11h2.67v2.67h-2.67zM656.80 65.11h2.67v2.67h-2.67zM662.13 65.11h2.67v2.67h-2.67zM619.45 67.78h2.67v2.67h-2.67zM624.78 67.78h2.67v2.67h-2.67zM627.45 67.78h2.67v2.67h-2.67zM630.12 67.78h2.67v2.67h-2.67zM632.79 67.78h2.67v2.67h-2.67zM635.45 67.78h2.67v2.67h-2.67zM638.12 67.78h2.67v2.67h-2.67zM643.46 67.78h2.67v2.67h-2.67zM592.77 70.44h2.67v2.67h-2.67zM619.45 70.44h2.67v2.67h-2.67zM622.11 70.44h2.67v2.67h-2.67zM624.78 70.44h2.67v2.67h-2.67zM627.45 70.44h2.67v2.67h-2.67zM632.79 70.44h2.67v2.67h-2.67zM635.45 70.44h2.67v2.67h-2.67zM640.79 70.44h2.67v2.67h-2.67zM643.46 70.44h2.67v2.67h-2.67zM646.12 70.44h2.67v2.67h-2.67zM592.77 73.11h2.67v2.67h-2.67zM616.78 73.11h2.67v2.67h-2.67zM619.45 73.11h2.67v2.67h-2.67zM622.11 73.11h2.67v2.67h-2.67zM635.45 73.11h2.67v2.67h-2.67zM643.46 73.11h2.67v2.67h-2.67zM646.12 73.11h2.67v2.67h-2.67zM654.13 73.11h2.67v2.67h-2.67zM606.11 75.78h2.67v2.67h-2.67zM614.11 75.78h2.67v2.67h-2.67zM616.78 75.78h2.67v2.67h-2.67zM622.11 75.78h2.67v2.67h-2.67zM627.45 75.78h2.67v2.67h-2.67zM638.12 75.78h2.67v2.67h-2.67zM643.46 75.78h2.67v2.67h-2.67zM611.44 78.45h2.67v2.67h-2.67zM614.11 78.45h2.67v2.67h-2.67zM619.45 78.45h2.67v2.67h-2.67zM624.78 78.45h2.67v2.67h-2.67zM635.45 78.45h2.67v2.67h-2.67zM643.46 78.45h2.67v2.67h-2.67zM646.12 78.45h2.67v2.67h-2.67zM656.80 78.45h2.67v2.67h-2.67zM608.77 81.11h2.67v2.67h-2.67zM611.44 81.11h2.67v2.67h-2.67zM614.11 81.11h2.67v2.67h-2.67zM619.45 81.11h2.67v2.67h-2.67zM622.11 81.11h2.67v2.67h-2.67zM630.12 81.11h2.67v2.67h-2.67zM638.12 81.11h2.67v2.67h-2.67zM646.12 81.11h2.67v2.67h-2.67zM648.79 81.11h2.67v2.67h-2.67zM656.80 81.11h2.67v2.67h-2.67zM606.11 83.78h2.67v2.67h-2.67zM608.77 83.78h2.67v2.67h-2.67zM611.44 83.78h2.67v2.67h-2.67zM630.12 83.78h2.67v2.67h-2.67zM638.12 83.78h2.67v2.67h-2.67zM640.79 83.78h2.67v2.67h-2.67zM643.46 83.78h2.67v2.67h-2.67zM651.46 83.78h2.67v2.67h-2.67zM606.11 86.45h2.67v2.67h-2.67zM608.77 86.45h2.67v2.67h-2.67zM630.12 86.45h2.67v2.67h-2.67zM635.45 86.45h2.67v2.67h-2.67zM640.79 86.45h2.67v2.67h-2.67zM651.46 86.45h2.67v2.67h-2.67zM656.80 86.45h2.67v2.67h-2.67zM598.10 89.12h2.67v2.67h-2.67zM606.11 89.12h2.67v2.67h-2.67zM608.77 89.12h2.67v2.67h-2.67zM611.44 89.12h2.67v2.67h-2.67zM614.11 89.12h2.67v2.67h-2.67zM622.11 89.12h2.67v2.67h-2.67zM630.12 89.12h2.67v2.67h-2.67zM638.12 89.12h2.67v2.67h-2.67zM640.79 89.12h2.67v2.67h-2.67zM643.46 89.12h2.67v2.67h-2.67zM646.12 89.12h2.67v2.67h-2.67zM606.11 91.79h2.67v2.67h-2.67zM608.77 91.79h2.67v2.67h-2.67zM627.45 91.79h2.67v2.67h-2.67zM632.79 91.79h2.67v2.67h-2.67zM635.45 91.79h2.67v2.67h-2.67zM638.12 91.79h2.67v2.67h-2.67zM640.79 91.79h2.67v2.67h-2.67zM643.46 91.79h2.67v2.67h-2.67zM646.12 91.79h2.67v2.67h-2.67zM648.79 91.79h2.67v2.67h-2.67zM651.46 91.79h2.67v2.67h-2.67zM654.13 91.79h2.67v2.67h-2.67zM600.77 94.45h2.67v2.67h-2.67zM606.11 94.45h2.67v2.67h-2.67zM608.77 94.45h2.67v2.67h-2.67zM611.44 94.45h2.67v2.67h-2.67zM622.11 94.45h2.67v2.67h-2.67zM624.78 94.45h2.67v2.67h-2.67zM627.45 94.45h2.67v2.67h-2.67zM632.79 94.45h2.67v2.67h-2.67zM635.45 94.45h2.67v2.67h-2.67zM638.12 94.45h2.67v2.67h-2.67zM640.79 94.45h2.67v2.67h-2.67zM643.46 94.45h2.67v2.67h-2.67zM646.12 94.45h2.67v2.67h-2.67zM651.46 94.45h2.67v2.67h-2.67zM595.44 97.12h2.67v2.67h-2.67zM606.11 97.12h2.67v2.67h-2.67zM608.77 97.12h2.67v2.67h-2.67zM611.44 97.12h2.67v2.67h-2.67zM619.45 97.12h2.67v2.67h-2.67zM622.11 97.12h2.67v2.67h-2.67zM624.78 97.12h2.67v2.67h-2.67zM627.45 97.12h2.67v2.67h-2.67zM632.79 97.12h2.67v2.67h-2.67zM635.45 97.12h2.67v2.67h-2.67zM662.13 97.12h2.67v2.67h-2.67zM603.44 99.79h2.67v2.67h-2.67zM606.11 99.79h2.67v2.67h-2.67zM616.78 99.79h2.67v2.67h-2.67zM619.45 99.79h2.67v2.67h-2.67zM622.11 99.79h2.67v2.67h-2.67zM624.78 99.79h2.67v2.67h-2.67zM627.45 99.79h2.67v2.67h-2.67zM603.44 102.46h2.67v2.67h-2.67zM608.77 102.46h2.67v2.67h-2.67zM619.45 102.46h2.67v2.67h-2.67zM624.78 102.46h2.67v2.67h-2.67zM630.12 102.46h2.67v2.67h-2.67zM635.45 102.46h2.67v2.67h-2.67zM603.44 105.12h2.67v2.67h-2.67zM606.11 105.12h2.67v2.67h-2.67zM611.44 105.12h2.67v2.67h-2.67zM614.11 105.12h2.67v2.67h-2.67zM616.78 105.12h2.67v2.67h-2.67zM619.45 105.12h2.67v2.67h-2.67zM624.78 105.12h2.67v2.67h-2.67zM630.12 105.12h2.67v2.67h-2.67zM635.45 105.12h2.67v2.67h-2.67zM592.77 107.79h2.67v2.67h-2.67zM606.11 107.79h2.67v2.67h-2.67zM608.77 107.79h2.67v2.67h-2.67zM614.11 107.79h2.67v2.67h-2.67zM616.78 107.79h2.67v2.67h-2.67zM619.45 107.79h2.67v2.67h-2.67zM624.78 107.79h2.67v2.67h-2.67zM611.44 110.46h2.67v2.67h-2.67zM614.11 110.46h2.67v2.67h-2.67zM616.78 110.46h2.67v2.67h-2.67zM619.45 110.46h2.67v2.67h-2.67zM608.77 113.13h2.67v2.67h-2.67zM632.79 113.13h2.67v2.67h-2.67zM608.77 115.80h2.67v2.67h-2.67zM614.11 115.80h2.67v2.67h-2.67zM638.12 115.80h2.67v2.67h-2.67zM640.79 115.80h2.67v2.67h-2.67zM654.13 115.80h2.67v2.67h-2.67zM659.46 115.80h2.67v2.67h-2.67zM622.11 118.46h2.67v2.67h-2.67zM630.12 118.46h2.67v2.67h-2.67zM624.78 121.13h2.67v2.67h-2.67zM638.12 121.13h2.67v2.67h-2.67z" fill="#f7e627"/>
<rect x="348.0" y="129.7" width="74.7" height="74.7" fill="#46256e"/>
<path d="M350.67 129.70h2.67v2.67h-2.67zM374.68 129.70h2.67v2.67h-2.67zM414.70 129.70h2.67v2.67h-2.67zM417.36 129.70h2.67v2.67h-2.67zM361.34 132.37h2.67v2.67h-2.67zM372.01 132.37h2.67v2.67h-2.67zM390.69 132.37h2.67v2.67h-2.67zM404.02 132.37h2.67v2.67h-2.67zM406.69 132.37h2.67v2.67h-2.67zM366.68 135.04h2.67v2.67h-2.67zM372.01 135.04h2.67v2.67h-2.67zM388.02 135.04h2.67v2.67h-2.67zM406.69 135.04h2.67v2.67h-2.67zM409.36 135.04h2.67v2.67h-2.67zM396.02 137.70h2.67v2.67h-2.67zM401.36 137.70h2.67v2.67h-2.67zM380.01 140.37h2.67v2.67h-2.67zM382.68 140.37h2.67v2.67h-2.67zM401.36 140.37h2.67v2.67h-2.67zM358.67 143.04h2.67v2.67h-2.67zM377.35 143.04h2.67v2.67h-2.67zM380.01 143.04h2.67v2.67h-2.67zM382.68 143.04h2.67v2.67h-2.67zM388.02 143.04h2.67v2.67h-2.67zM393.35 143.04h2.67v2.67h-2.67zM409.36 143.04h2.67v2.67h-2.67zM358.67 145.71h2.67v2.67h-2.67zM393.35 145.71h2.67v2.67h-2.67zM364.01 148.38h2.67v2.67h-2.67zM366.68 148.38h2.67v2.67h-2.67zM369.34 148.38h2.67v2.67h-2.67zM374.68 148.38h2.67v2.67h-2.67zM377.35 148.38h2.67v2.67h-2.67zM382.68 148.38h2.67v2.67h-2.67zM385.35 148.38h2.67v2.67h-2.67zM390.69 148.38h2.67v2.67h-2.67zM393.35 148.38h2.67v2.67h-2.67zM366.68 151.04h2.67v2.67h-2.67zM377.35 151.04h2.67v2.67h-2.67zM380.01 151.04h2.67v2.67h-2.67zM377.35 153.71h2.67v2.67h-2.67zM385.35 153.71h2.67v2.67h-2.67zM388.02 153.71h2.67v2.67h-2.67zM393.35 153.71h2.67v2.67h-2.67zM406.69 153.71h2.67v2.67h-2.67zM366.68 156.38h2.67v2.67h-2.67zM380.01 156.38h2.67v2.67h-2.67zM393.35 156.38h2.67v2.67h-2.67zM396.02 156.38h2.67v2.67h-2.67zM398.69 156.38h2.67v2.67h-2.67zM404.02 156.38h2.67v2.67h-2.67zM420.03 156.38h2.67v2.67h-2.67zM369.34 159.05h2.67v2.67h-2.67zM372.01 159.05h2.67v2.67h-2.67zM374.68 159.05h2.67v2.67h-2.67zM377.35 159.05h2.67v2.67h-2.67zM382.68 159.05h2.67v2.67h-2.67zM390.69 159.05h2.67v2.67h-2.67zM393.35 159.05h2.67v2.67h-2.67zM414.70 159.05h2.67v2.67h-2.67zM358.67 161.71h2.67v2.67h-2.67zM361.34 161.71h2.67v2.67h-2.67zM366.68 161.71h2.67v2.67h-2.67zM374.68 161.71h2.67v2.67h-2.67zM380.01 161.71h2.67v2.67h-2.67zM382.68 161.71h2.67v2.67h-2.67zM385.35 161.71h2.67v2.67h-2.67zM390.69 161.71h2.67v2.67h-2.67zM356.00 164.38h2.67v2.67h-2.67zM377.35 164.38h2.67v2.67h-2.67zM388.02 164.38h2.67v2.67h-2.67zM406.69 164.38h2.67v2.67h-2.67zM356.00 167.05h2.67v2.67h-2.67zM377.35 167.05h2.67v2.67h-2.67zM382.68 167.05h2.67v2.67h-2.67zM385.35 167.05h2.67v2.67h-2.67zM388.02 167.05h2.67v2.67h-2.67zM406.69 167.05h2.67v2.67h-2.67zM358.67 169.72h2.67v2.67h-2.67zM372.01 169.72h2.67v2.67h-2.67zM374.68 169.72h2.67v2.67h-2.67zM377.35 169.72h2.67v2.67h-2.67zM385.35 169.72h2.67v2.67h-2.67zM393.35 169.72h2.67v2.67h-2.67zM396.02 169.72h2.67v2.67h-2.67zM401.36 169.72h2.67v2.67h-2.67zM350.67 172.39h2.67v2.67h-2.67zM369.34 172.39h2.67v2.67h-2.67zM372.01 172.39h2.67v2.67h-2.67zM377.35 172.39h2.67v2.67h-2.67zM382.68 172.39h2.67v2.67h-2.67zM388.02 172.39h2.67v2.67h-2.67zM390.69 172.39h2.67v2.67h-2.67zM396.02 172.39h2.67v2.67h-2.67zM412.03 172.39h2.67v2.67h-2.67zM350.67 175.05h2.67v2.67h-2.67zM372.01 175.05h2.67v2.67h-2.67zM374.68 175.05h2.67v2.67h-2.67zM380.01 175.05h2.67v2.67h-2.67zM382.68 175.05h2.67v2.67h-2.67zM385.35 175.05h2.67v2.67h-2.67zM388.02 175.05h2.67v2.67h-2.67zM393.35 175.05h2.67v2.67h-2.67zM398.69 175.05h2.67v2.67h-2.67zM390.69 177.72h2.67v2.67h-2.67zM396.02 177.72h2.67v2.67h-2.67zM398.69 177.72h2.67v2.67h-2.67zM348.00 180.39h2.67v2.67h-2.67zM366.68 180.39h2.67v2.67h-2.67zM372.01 180.39h2.67v2.67h-2.67zM374.68 180.39h2.67v2.67h-2.67zM377.35 180.39h2.67v2.67h-2.67zM393.35 180.39h2.67v2.67h-2.67zM398.69 180.39h2.67v2.67h-2.67zM401.36 180.39h2.67v2.67h-2.67zM414.70 180.39h2.67v2.67h-2.67zM417.36 180.39h2.67v2.67h-2.67zM353.34 183.06h2.67v2.67h-2.67zM356.00 183.06h2.67v2.67h-2.67zM372.01 183.06h2.67v2.67h-2.67zM382.68 183.06h2.67v2.67h-2.67zM390.69 183.06h2.67v2.67h-2.67zM398.69 183.06h2.67v2.67h-2.67zM374.68 185.72h2.67v2.67h-2.67zM382.68 185.72h2.67v2.67h-2.67zM393.35 185.72h2.67v2.67h-2.67zM398.69 185.72h2.67v2.67h-2.67zM401.36 185.72h2.67v2.67h-2.67zM409.36 185.72h2.67v2.67h-2.67zM348.00 188.39h2.67v2.67h-2.67zM374.68 188.39h2.67v2.67h-2.67zM385.35 188.39h2.67v2.67h-2.67zM393.35 188.39h2.67v2.67h-2.67zM396.02 188.39h2.67v2.67h-2.67zM398.69 188.39h2.67v2.67h-2.67zM401.36 188.39h2.67v2.67h-2.67zM404.02 188.39h2.67v2.67h-2.67zM406.69 188.39h2.67v2.67h-2.67zM396.02 191.06h2.67v2.67h-2.67zM398.69 191.06h2.67v2.67h-2.67zM406.69 191.06h2.67v2.67h-2.67zM385.35 193.73h2.67v2.67h-2.67zM390.69 193.73h2.67v2.67h-2.67zM398.69 193.73h2.67v2.67h-2.67zM401.36 193.73h2.67v2.67h-2.67zM404.02 193.73h2.67v2.67h-2.67zM401.36 196.40h2.67v2.67h-2.67zM350.67 199.06h2.67v2.67h-2.67zM372.01 199.06h2.67v2.67h-2.67zM396.02 199.06h2.67v2.67h-2.67zM366.68 201.73h2.67v2.67h-2.67z" fill="#f7e627"/>
<rect x="428.7" y="129.7" width="74.7" height="74.7" fill="#46256e"/>
<path d="M431.37 129.70h2.67v2.67h-2.67zM455.38 129.70h2.67v2.67h-2.67zM495.40 129.70h2.67v2.67h-2.67zM498.06 129.70h2.67v2.67h-2.67zM442.04 132.37h2.67v2.67h-2.67zM452.71 132.37h2.67v2.67h-2.67zM471.39 132.37h2.67v2.67h-2.67zM484.73 132.37h2.67v2.67h-2.67zM487.39 132.37h2.67v2.67h-2.67zM447.38 135.04h2.67v2.67h-2.67zM452.71 135.04h2.67v2.67h-2.67zM468.72 135.04h2.67v2.67h-2.67zM487.39 135.04h2.67v2.67h-2.67zM490.06 135.04h2.67v2.67h-2.67zM476.72 137.70h2.67v2.67h-2.67zM460.71 140.37h2.67v2.67h-2.67zM463.38 140.37h2.67v2.67h-2.67zM439.37 143.04h2.67v2.67h-2.67zM458.05 143.04h2.67v2.67h-2.67zM460.71 143.04h2.67v2.67h-2.67zM463.38 143.04h2.67v2.67h-2.67zM468.72 143.04h2.67v2.67h-2.67zM474.05 143.04h2.67v2.67h-2.67zM490.06 143.04h2.67v2.67h-2.67zM439.37 145.71h2.67v2.67h-2.67zM474.05 145.71h2.67v2.67h-2.67zM444.71 148.38h2.67v2.67h-2.67zM447.38 148.38h2.67v2.67h-2.67zM450.04 148.38h2.67v2.67h-2.67zM455.38 148.38h2.67v2.67h-2.67zM458.05 148.38h2.67v2.67h-2.67zM463.38 148.38h2.67v2.67h-2.67zM466.05 148.38h2.67v2.67h-2.67zM471.39 148.38h2.67v2.67h-2.67zM474.05 148.38h2.67v2.67h-2.67zM447.38 151.04h2.67v2.67h-2.67zM458.05 151.04h2.67v2.67h-2.67zM460.71 151.04h2.67v2.67h-2.67zM458.05 153.71h2.67v2.67h-2.67zM466.05 153.71h2.67v2.67h-2.67zM468.72 153.71h2.67v2.67h-2.67zM474.05 153.71h2.67v2.67h-2.67zM487.39 153.71h2.67v2.67h-2.67zM447.38 156.38h2.67v2.67h-2.67zM460.71 156.38h2.67v2.67h-2.67zM474.05 156.38h2.67v2.67h-2.67zM476.72 156.38h2.67v2.67h-2.67zM479.39 156.38h2.67v2.67h-2.67zM484.73 156.38h2.67v2.67h-2.67zM500.73 156.38h2.67v2.67h-2.67zM450.04 159.05h2.67v2.67h-2.67zM452.71 159.05h2.67v2.67h-2.67zM455.38 159.05h2.67v2.67h-2.67zM458.05 159.05h2.67v2.67h-2.67zM463.38 159.05h2.67v2.67h-2.67zM471.39 159.05h2.67v2.67h-2.67zM474.05 159.05h2.67v2.67h-2.67zM495.40 159.05h2.67v2.67h-2.67zM439.37 161.71h2.67v2.67h-2.67zM442.04 161.71h2.67v2.67h-2.67zM447.38 161.71h2.67v2.67h-2.67zM455.38 161.71h2.67v2.67h-2.67zM460.71 161.71h2.67v2.67h-2.67zM463.38 161.71h2.67v2.67h-2.67zM466.05 161.71h2.67v2.67h-2.67zM471.39 161.71h2.67v2.67h-2.67zM436.70 164.38h2.67v2.67h-2.67zM458.05 164.38h2.67v2.67h-2.67zM468.72 164.38h2.67v2.67h-2.67zM487.39 164.38h2.67v2.67h-2.67zM436.70 167.05h2.67v2.67h-2.67zM458.05 167.05h2.67v2.67h-2.67zM463.38 167.05h2.67v2.67h-2.67zM466.05 167.05h2.67v2.67h-2.67zM468.72 167.05h2.67v2.67h-2.67zM487.39 167.05h2.67v2.67h-2.67zM439.37 169.72h2.67v2.67h-2.67zM452.71 169.72h2.67v2.67h-2.67zM455.38 169.72h2.67v2.67h-2.67zM458.05 169.72h2.67v2.67h-2.67zM466.05 169.72h2.67v2.67h-2.67zM474.05 169.72h2.67v2.67h-2.67zM476.72 169.72h2.67v2.67h-2.67zM482.06 169.72h2.67v2.67h-2.67zM431.37 172.39h2.67v2.67h-2.67zM450.04 172.39h2.67v2.67h-2.67zM452.71 172.39h2.67v2.67h-2.67zM458.05 172.39h2.67v2.67h-2.67zM463.38 172.39h2.67v2.67h-2.67zM468.72 172.39h2.67v2.67h-2.67zM471.39 172.39h2.67v2.67h-2.67zM476.72 172.39h2.67v2.67h-2.67zM492.73 172.39h2.67v2.67h-2.67zM431.37 175.05h2.67v2.67h-2.67zM452.71 175.05h2.67v2.67h-2.67zM455.38 175.05h2.67v2.67h-2.67zM460.71 175.05h2.67v2.67h-2.67zM463.38 175.05h2.67v2.67h-2.67zM466.05 175.05h2.67v2.67h-2.67zM468.72 175.05h2.67v2.67h-2.67zM474.05 175.05h2.67v2.67h-2.67zM479.39 175.05h2.67v2.67h-2.67zM471.39 177.72h2.67v2.67h-2.67zM476.72 177.72h2.67v2.67h-2.67zM479.39 177.72h2.67v2.67h-2.67zM428.70 180.39h2.67v2.67h-2.67zM447.38 180.39h2.67v2.67h-2.67zM452.71 180.39h2.67v2.67h-2.67zM455.38 180.39h2.67v2.67h-2.67zM458.05 180.39h2.67v2.67h-2.67zM474.05 180.39h2.67v2.67h-2.67zM479.39 180.39h2.67v2.67h-2.67zM482.06 180.39h2.67v2.67h-2.67zM495.40 180.39h2.67v2.67h-2.67zM498.06 180.39h2.67v2.67h-2.67zM434.04 183.06h2.67v2.67h-2.67zM436.70 183.06h2.67v2.67h-2.67zM452.71 183.06h2.67v2.67h-2.67zM463.38 183.06h2.67v2.67h-2.67zM471.39 183.06h2.67v2.67h-2.67zM479.39 183.06h2.67v2.67h-2.67zM455.38 185.72h2.67v2.67h-2.67zM463.38 185.72h2.67v2.67h-2.67zM474.05 185.72h2.67v2.67h-2.67zM479.39 185.72h2.67v2.67h-2.67zM482.06 185.72h2.67v2.67h-2.67zM490.06 185.72h2.67v2.67h-2.67zM428.70 188.39h2.67v2.67h-2.67zM455.38 188.39h2.67v2.67h-2.67zM466.05 188.39h2.67v2.67h-2.67zM474.05 188.39h2.67v2.67h-2.67zM476.72 188.39h2.67v2.67h-2.67zM479.39 188.39h2.67v2.67h-2.67zM482.06 188.39h2.67v2.67h-2.67zM484.73 188.39h2.67v2.67h-2.67zM487.39 188.39h2.67v2.67h-2.67zM476.72 191.06h2.67v2.67h-2.67zM479.39 191.06h2.67v2.67h-2.67zM487.39 191.06h2.67v2.67h-2.67zM466.05 193.73h2.67v2.67h-2.67zM471.39 193.73h2.67v2.67h-2.67zM479.39 193.73h2.67v2.67h-2.67zM482.06 193.73h2.67v2.67h-2.67zM484.73 193.73h2.67v2.67h-2.67zM482.06 196.40h2.67v2.67h-2.67zM431.37 199.06h2.67v2.67h-2.67zM452.71 199.06h2.67v2.67h-2.67zM476.72 199.06h2.67v2.67h-2.67zM447.38 201.73h2.67v2.67h-2.67z" fill="#f7e627"/>
<rect x="509.4" y="129.7" width="74.7" height="74.7" fill="#46256e"/>
<path d="M562.76 140.37h2.67v2.67h-2.67zM533.41 143.04h2.67v2.67h-2.67zM536.08 143.04h2.67v2.67h-2.67zM538.75 143.04h2.67v2.67h-2.67zM541.41 143.04h2.67v2.67h-2.67zM544.08 143.04h2.67v2.67h-2.67zM549.42 143.04h2.67v2.67h-2.67zM522.74 145.71h2.67v2.67h-2.67zM530.74 145.71h2.67v2.67h-2.67zM533.41 145.71h2.67v2.67h-2.67zM541.41 145.71h2.67v2.67h-2.67zM549.42 145.71h2.67v2.67h-2.67zM552.09 145.71h2.67v2.67h-2.67zM554.75 145.71h2.67v2.67h-2.67zM560.09 145.71h2.67v2.67h-2.67zM570.76 145.71h2.67v2.67h-2.67zM528.07 148.38h2.67v2.67h-2.67zM530.74 148.38h2.67v2.67h-2.67zM533.41 148.38h2.67v2.67h-2.67zM538.75 148.38h2.67v2.67h-2.67zM544.08 148.38h2.67v2.67h-2.67zM552.09 148.38h2.67v2.67h-2.67zM554.75 148.38h2.67v2.67h-2.67zM560.09 148.38h2.67v2.67h-2.67zM570.76 148.38h2.67v2.67h-2.67zM525.41 151.04h2.67v2.67h-2.67zM533.41 151.04h2.67v2.67h-2.67zM538.75 151.04h2.67v2.67h-2.67zM541.41 151.04h2.67v2.67h-2.67zM544.08 151.04h2.67v2.67h-2.67zM546.75 151.04h2.67v2.67h-2.67zM552.09 151.04h2.67v2.67h-2.67zM554.75 151.04h2.67v2.67h-2.67zM557.42 151.04h2.67v2.67h-2.67zM560.09 151.04h2.67v2.67h-2.67zM525.41 153.71h2.67v2.67h-2.67zM541.41 153.71h2.67v2.67h-2.67zM560.09 153.71h2.67v2.67h-2.67zM562.76 153.71h2.67v2.67h-2.67zM538.75 156.38h2.67v2.67h-2.67zM549.42 156.38h2.67v2.67h-2.67zM536.08 159.05h2.67v2.67h-2.67zM538.75 159.05h2.67v2.67h-2.67zM544.08 159.05h2.67v2.67h-2.67zM552.09 159.05h2.67v2.67h-2.67zM554.75 159.05h2.67v2.67h-2.67zM533.41 161.71h2.67v2.67h-2.67zM536.08 161.71h2.67v2.67h-2.67zM538.75 161.71h2.67v2.67h-2.67zM546.75 161.71h2.67v2.67h-2.67zM549.42 161.71h2.67v2.67h-2.67zM554.75 161.71h2.67v2.67h-2.67zM528.07 164.38h2.67v2.67h-2.67zM533.41 164.38h2.67v2.67h-2.67zM536.08 164.38h2.67v2.67h-2.67zM541.41 164.38h2.67v2.67h-2.67zM546.75 164.38h2.67v2.67h-2.67zM549.42 164.38h2.67v2.67h-2.67zM552.09 164.38h2.67v2.67h-2.67zM557.42 164.38h2.67v2.67h-2.67zM528.07 167.05h2.67v2.67h-2.67zM538.75 167.05h2.67v2.67h-2.67zM541.41 167.05h2.67v2.67h-2.67zM544.08 167.05h2.67v2.67h-2.67zM546.75 167.05h2.67v2.67h-2.67zM549.42 167.05h2.67v2.67h-2.67zM552.09 167.05h2.67v2.67h-2.67zM557.42 167.05h2.67v2.67h-2.67zM538.75 169.72h2.67v2.67h-2.67zM541.41 169.72h2.67v2.67h-2.67zM549.42 169.72h2.67v2.67h-2.67zM560.09 169.72h2.67v2.67h-2.67zM533.41 172.39h2.67v2.67h-2.67zM538.75 172.39h2.67v2.67h-2.67zM541.41 172.39h2.67v2.67h-2.67zM544.08 172.39h2.67v2.67h-2.67zM552.09 172.39h2.67v2.67h-2.67zM557.42 172.39h2.67v2.67h-2.67zM560.09 172.39h2.67v2.67h-2.67zM541.41 175.05h2.67v2.67h-2.67zM544.08 175.05h2.67v2.67h-2.67zM546.75 175.05h2.67v2.67h-2.67zM549.42 175.05h2.67v2.67h-2.67zM557.42 175.05h2.67v2.67h-2.67zM552.09 177.72h2.67v2.67h-2.67zM554.75 177.72h2.67v2.67h-2.67zM565.42 177.72h2.67v2.67h-2.67zM528.07 180.39h2.67v2.67h-2.67zM533.41 180.39h2.67v2.67h-2.67zM546.75 180.39h2.67v2.67h-2.67zM560.09 180.39h2.67v2.67h-2.67zM562.76 180.39h2.67v2.67h-2.67zM528.07 183.06h2.67v2.67h-2.67zM536.08 183.06h2.67v2.67h-2.67zM541.41 183.06h2.67v2.67h-2.67zM544.08 183.06h2.67v2.67h-2.67zM546.75 183.06h2.67v2.67h-2.67zM549.42 183.06h2.67v2.67h-2.67zM552.09 183.06h2.67v2.67h-2.67zM554.75 183.06h2.67v2.67h-2.67zM562.76 183.06h2.67v2.67h-2.67zM528.07 185.72h2.67v2.67h-2.67zM530.74 185.72h2.67v2.67h-2.67zM536.08 185.72h2.67v2.67h-2.67zM541.41 185.72h2.67v2.67h-2.67zM544.08 185.72h2.67v2.67h-2.67zM546.75 185.72h2.67v2.67h-2.67zM549.42 185.72h2.67v2.67h-2.67zM552.09 185.72h2.67v2.67h-2.67zM554.75 185.72h2.67v2.67h-2.67zM557.42 185.72h2.67v2.67h-2.67zM562.76 185.72h2.67v2.67h-2.67zM530.74 188.39h2.67v2.67h-2.67zM536.08 188.39h2.67v2.67h-2.67zM541.41 188.39h2.67v2.67h-2.67zM544.08 188.39h2.67v2.67h-2.67zM552.09 188.39h2.67v2.67h-2.67zM554.75 188.39h2.67v2.67h-2.67zM557.42 188.39h2.67v2.67h-2.67zM562.76 188.39h2.67v2.67h-2.67zM565.42 188.39h2.67v2.67h-2.67zM536.08 191.06h2.67v2.67h-2.67zM541.41 191.06h2.67v2.67h-2.67zM546.75 191.06h2.67v2.67h-2.67zM549.42 191.06h2.67v2.67h-2.67zM552.09 191.06h2.67v2.67h-2.67zM554.75 191.06h2.67v2.67h-2.67zM557.42 191.06h2.67v2.67h-2.67zM560.09 191.06h2.67v2.67h-2.67zM544.08 193.73h2.67v2.67h-2.67zM549.42 193.73h2.67v2.67h-2.67zM552.09 193.73h2.67v2.67h-2.67zM554.75 193.73h2.67v2.67h-2.67zM557.42 193.73h2.67v2.67h-2.67z" fill="#f7e627"/>
<rect x="590.1" y="129.7" width="74.7" height="74.7" fill="#46256e"/>
<path d="M627.45 140.37h2.67v2.67h-2.67zM630.12 140.37h2.67v2.67h-2.67zM640.79 140.37h2.67v2.67h-2.67zM616.78 143.04h2.67v2.67h-2.67zM622.11 143.04h2.67v2.67h-2.67zM624.78 143.04h2.67v2.67h-2.67zM627.45 143.04h2.67v2.67h-2.67zM632.79 143.04h2.67v2.67h-2.67zM640.79 143.04h2.67v2.67h-2.67zM614.11 145.71h2.67v2.67h-2.67zM619.45 145.71h2.67v2.67h-2.67zM622.11 145.71h2.67v2.67h-2.67zM624.78 145.71h2.67v2.67h-2.67zM627.45 145.71h2.67v2.67h-2.67zM632.79 145.71h2.67v2.67h-2.67zM635.45 145.71h2.67v2.67h-2.67zM640.79 145.71h2.67v2.67h-2.67zM643.46 145.71h2.67v2.67h-2.67zM616.78 148.38h2.67v2.67h-2.67zM619.45 148.38h2.67v2.67h-2.67zM622.11 148.38h2.67v2.67h-2.67zM627.45 148.38h2.67v2.67h-2.67zM630.12 148.38h2.67v2.67h-2.67zM635.45 148.38h2.67v2.67h-2.67zM638.12 148.38h2.67v2.67h-2.67zM640.79 148.38h2.67v2.67h-2.67zM616.78 151.04h2.67v2.67h-2.67zM619.45 151.04h2.67v2.67h-2.67zM630.12 151.04h2.67v2.67h-2.67zM635.45 151.04h2.67v2.67h-2.67zM638.12 151.04h2.67v2.67h-2.67zM640.79 151.04h2.67v2.67h-2.67zM643.46 151.04h2.67v2.67h-2.67zM611.44 153.71h2.67v2.67h-2.67zM619.45 153.71h2.67v2.67h-2.67zM630.12 153.71h2.67v2.67h-2.67zM643.46 153.71h2.67v2.67h-2.67zM611.44 156.38h2.67v2.67h-2.67zM614.11 156.38h2.67v2.67h-2.67zM616.78 156.38h2.67v2.67h-2.67zM619.45 156.38h2.67v2.67h-2.67zM640.79 156.38h2.67v2.67h-2.67zM643.46 156.38h2.67v2.67h-2.67zM646.12 156.38h2.67v2.67h-2.67zM608.77 159.05h2.67v2.67h-2.67zM619.45 159.05h2.67v2.67h-2.67zM627.45 159.05h2.67v2.67h-2.67zM630.12 159.05h2.67v2.67h-2.67zM638.12 159.05h2.67v2.67h-2.67zM640.79 159.05h2.67v2.67h-2.67zM648.79 159.05h2.67v2.67h-2.67zM627.45 161.71h2.67v2.67h-2.67zM638.12 161.71h2.67v2.67h-2.67zM643.46 161.71h2.67v2.67h-2.67zM646.12 161.71h2.67v2.67h-2.67zM608.77 164.38h2.67v2.67h-2.67zM624.78 164.38h2.67v2.67h-2.67zM627.45 164.38h2.67v2.67h-2.67zM630.12 164.38h2.67v2.67h-2.67zM632.79 164.38h2.67v2.67h-2.67zM638.12 164.38h2.67v2.67h-2.67zM640.79 164.38h2.67v2.67h-2.67zM643.46 164.38h2.67v2.67h-2.67zM651.46 164.38h2.67v2.67h-2.67zM608.77 167.05h2.67v2.67h-2.67zM627.45 167.05h2.67v2.67h-2.67zM632.79 167.05h2.67v2.67h-2.67zM640.79 167.05h2.67v2.67h-2.67zM643.46 167.05h2.67v2.67h-2.67zM648.79 167.05h2.67v2.67h-2.67zM651.46 167.05h2.67v2.67h-2.67zM616.78 169.72h2.67v2.67h-2.67zM632.79 169.72h2.67v2.67h-2.67zM643.46 169.72h2.67v2.67h-2.67zM648.79 169.72h2.67v2.67h-2.67zM611.44 172.39h2.67v2.67h-2.67zM624.78 172.39h2.67v2.67h-2.67zM635.45 175.05h2.67v2.67h-2.67zM638.12 175.05h2.67v2.67h-2.67zM622.11 177.72h2.67v2.67h-2.67zM630.12 177.72h2.67v2.67h-2.67zM635.45 177.72h2.67v2.67h-2.67zM606.11 180.39h2.67v2.67h-2.67zM608.77 180.39h2.67v2.67h-2.67zM616.78 180.39h2.67v2.67h-2.67zM622.11 180.39h2.67v2.67h-2.67zM624.78 180.39h2.67v2.67h-2.67zM627.45 180.39h2.67v2.67h-2.67zM632.79 180.39h2.67v2.67h-2.67zM635.45 180.39h2.67v2.67h-2.67zM638.12 180.39h2.67v2.67h-2.67zM640.79 180.39h2.67v2.67h-2.67zM600.77 183.06h2.67v2.67h-2.67zM608.77 183.06h2.67v2.67h-2.67zM619.45 183.06h2.67v2.67h-2.67zM622.11 183.06h2.67v2.67h-2.67zM624.78 183.06h2.67v2.67h-2.67zM627.45 183.06h2.67v2.67h-2.67zM630.12 183.06h2.67v2.67h-2.67zM632.79 183.06h2.67v2.67h-2.67zM635.45 183.06h2.67v2.67h-2.67zM606.11 185.72h2.67v2.67h-2.67zM608.77 185.72h2.67v2.67h-2.67zM614.11 185.72h2.67v2.67h-2.67zM616.78 185.72h2.67v2.67h-2.67zM619.45 185.72h2.67v2.67h-2.67zM622.11 185.72h2.67v2.67h-2.67zM624.78 185.72h2.67v2.67h-2.67zM627.45 185.72h2.67v2.67h-2.67zM630.12 185.72h2.67v2.67h-2.67zM632.79 185.72h2.67v2.67h-2.67zM611.44 188.39h2.67v2.67h-2.67zM616.78 188.39h2.67v2.67h-2.67zM619.45 188.39h2.67v2.67h-2.67zM622.11 188.39h2.67v2.67h-2.67zM627.45 188.39h2.67v2.67h-2.67zM632.79 188.39h2.67v2.67h-2.67zM624.78 191.06h2.67v2.67h-2.67zM611.44 193.73h2.67v2.67h-2.67z" fill="#f7e627"/>
</svg></body></html>
